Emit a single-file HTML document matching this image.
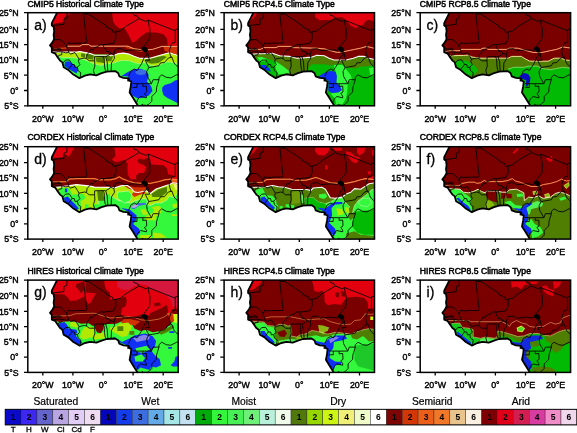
<!DOCTYPE html>
<html><head><meta charset="utf-8"><title>Climate Type</title>
<style>html,body{margin:0;padding:0;background:#fff;overflow:hidden}svg{display:block}</style></head>
<body>
<svg width="577" height="433" viewBox="0 0 577 433" font-family="'Liberation Sans', Arial, sans-serif" fill="#000">
<rect x="0" y="0" width="577" height="433" fill="#fff"/>
<defs>
<clipPath id="land0"><polygon points="57.4,12.0 54.2,18.4 51.8,23.2 51.8,25.6 53.6,26.8 54.2,31.0 53.6,35.2 54.2,38.8 52.4,42.4 50.0,45.4 51.8,47.4 51.8,52.2 55.2,53.6 57.6,57.2 60.0,60.6 62.4,62.4 63.7,67.3 67.9,69.7 73.4,74.6 79.4,78.2 84.9,75.6 90.2,74.4 96.4,75.3 101.6,73.2 106.8,71.6 115.2,71.1 118.3,73.2 119.3,76.3 123.5,77.9 128.7,78.4 129.7,81.0 131.3,81.5 130.8,86.2 129.6,92.4 132.5,97.0 137.5,105.0 138.5,107.5 181.0,107.5 181.0,10.0 58.2,10.0"/></clipPath>
<clipPath id="fr0"><rect x="27.8" y="12.7" width="150.4" height="93.1"/></clipPath>
<clipPath id="land1"><polygon points="253.7,12.0 250.5,18.4 248.1,23.2 248.1,25.6 249.9,26.8 250.5,31.0 249.9,35.2 250.5,38.8 248.7,42.4 246.3,45.4 248.1,47.4 248.1,52.2 251.5,53.6 253.9,57.2 256.3,60.6 258.7,62.4 260.0,67.3 264.2,69.7 269.7,74.6 275.7,78.2 281.2,75.6 286.5,74.4 292.7,75.3 297.9,73.2 303.1,71.6 311.5,71.1 314.6,73.2 315.6,76.3 319.8,77.9 325.0,78.4 326.0,81.0 327.6,81.5 327.1,86.2 325.9,92.4 328.8,97.0 333.8,105.0 334.8,107.5 377.3,107.5 377.3,10.0 254.5,10.0"/></clipPath>
<clipPath id="fr1"><rect x="224.1" y="12.7" width="150.4" height="93.1"/></clipPath>
<clipPath id="land2"><polygon points="449.8,12.0 446.6,18.4 444.2,23.2 444.2,25.6 446.0,26.8 446.6,31.0 446.0,35.2 446.6,38.8 444.8,42.4 442.4,45.4 444.2,47.4 444.2,52.2 447.6,53.6 450.0,57.2 452.4,60.6 454.8,62.4 456.1,67.3 460.3,69.7 465.8,74.6 471.8,78.2 477.3,75.6 482.6,74.4 488.8,75.3 494.0,73.2 499.2,71.6 507.6,71.1 510.7,73.2 511.7,76.3 515.9,77.9 521.1,78.4 522.1,81.0 523.7,81.5 523.2,86.2 522.0,92.4 524.9,97.0 529.9,105.0 530.9,107.5 573.4,107.5 573.4,10.0 450.6,10.0"/></clipPath>
<clipPath id="fr2"><rect x="420.2" y="12.7" width="150.4" height="93.1"/></clipPath>
<clipPath id="land3"><polygon points="57.4,146.0 54.2,152.4 51.8,157.2 51.8,159.6 53.6,160.8 54.2,165.0 53.6,169.2 54.2,172.8 52.4,176.4 50.0,179.4 51.8,181.4 51.8,186.2 55.2,187.6 57.6,191.2 60.0,194.6 62.4,196.4 63.7,201.3 67.9,203.7 73.4,208.6 79.4,212.2 84.9,209.6 90.2,208.4 96.4,209.3 101.6,207.2 106.8,205.6 115.2,205.1 118.3,207.2 119.3,210.3 123.5,211.9 128.7,212.4 129.7,215.0 131.3,215.5 130.8,220.2 129.6,226.4 132.5,231.0 137.5,239.0 138.5,241.5 181.0,241.5 181.0,144.0 58.2,144.0"/></clipPath>
<clipPath id="fr3"><rect x="27.8" y="146.7" width="150.4" height="92.4"/></clipPath>
<clipPath id="land4"><polygon points="253.7,146.0 250.5,152.4 248.1,157.2 248.1,159.6 249.9,160.8 250.5,165.0 249.9,169.2 250.5,172.8 248.7,176.4 246.3,179.4 248.1,181.4 248.1,186.2 251.5,187.6 253.9,191.2 256.3,194.6 258.7,196.4 260.0,201.3 264.2,203.7 269.7,208.6 275.7,212.2 281.2,209.6 286.5,208.4 292.7,209.3 297.9,207.2 303.1,205.6 311.5,205.1 314.6,207.2 315.6,210.3 319.8,211.9 325.0,212.4 326.0,215.0 327.6,215.5 327.1,220.2 325.9,226.4 328.8,231.0 333.8,239.0 334.8,241.5 377.3,241.5 377.3,144.0 254.5,144.0"/></clipPath>
<clipPath id="fr4"><rect x="224.1" y="146.7" width="150.4" height="92.4"/></clipPath>
<clipPath id="land5"><polygon points="449.8,146.0 446.6,152.4 444.2,157.2 444.2,159.6 446.0,160.8 446.6,165.0 446.0,169.2 446.6,172.8 444.8,176.4 442.4,179.4 444.2,181.4 444.2,186.2 447.6,187.6 450.0,191.2 452.4,194.6 454.8,196.4 456.1,201.3 460.3,203.7 465.8,208.6 471.8,212.2 477.3,209.6 482.6,208.4 488.8,209.3 494.0,207.2 499.2,205.6 507.6,205.1 510.7,207.2 511.7,210.3 515.9,211.9 521.1,212.4 522.1,215.0 523.7,215.5 523.2,220.2 522.0,226.4 524.9,231.0 529.9,239.0 530.9,241.5 573.4,241.5 573.4,144.0 450.6,144.0"/></clipPath>
<clipPath id="fr5"><rect x="420.2" y="146.7" width="150.4" height="92.4"/></clipPath>
<clipPath id="land6"><polygon points="57.4,279.4 54.2,285.8 51.8,290.6 51.8,293.0 53.6,294.2 54.2,298.4 53.6,302.6 54.2,306.2 52.4,309.8 50.0,312.8 51.8,314.8 51.8,319.6 55.2,321.0 57.6,324.6 60.0,328.0 62.4,329.8 63.7,334.7 67.9,337.1 73.4,342.0 79.4,345.6 84.9,343.0 90.2,341.8 96.4,342.7 101.6,340.6 106.8,339.0 115.2,338.5 118.3,340.6 119.3,343.7 123.5,345.3 128.7,345.8 129.7,348.4 131.3,348.9 130.8,353.6 129.6,359.8 132.5,364.4 137.5,372.4 138.5,374.9 181.0,374.9 181.0,277.4 58.2,277.4"/></clipPath>
<clipPath id="fr6"><rect x="27.8" y="280.1" width="150.4" height="92.3"/></clipPath>
<clipPath id="land7"><polygon points="253.7,279.4 250.5,285.8 248.1,290.6 248.1,293.0 249.9,294.2 250.5,298.4 249.9,302.6 250.5,306.2 248.7,309.8 246.3,312.8 248.1,314.8 248.1,319.6 251.5,321.0 253.9,324.6 256.3,328.0 258.7,329.8 260.0,334.7 264.2,337.1 269.7,342.0 275.7,345.6 281.2,343.0 286.5,341.8 292.7,342.7 297.9,340.6 303.1,339.0 311.5,338.5 314.6,340.6 315.6,343.7 319.8,345.3 325.0,345.8 326.0,348.4 327.6,348.9 327.1,353.6 325.9,359.8 328.8,364.4 333.8,372.4 334.8,374.9 377.3,374.9 377.3,277.4 254.5,277.4"/></clipPath>
<clipPath id="fr7"><rect x="224.1" y="280.1" width="150.4" height="92.3"/></clipPath>
<clipPath id="land8"><polygon points="449.8,279.4 446.6,285.8 444.2,290.6 444.2,293.0 446.0,294.2 446.6,298.4 446.0,302.6 446.6,306.2 444.8,309.8 442.4,312.8 444.2,314.8 444.2,319.6 447.6,321.0 450.0,324.6 452.4,328.0 454.8,329.8 456.1,334.7 460.3,337.1 465.8,342.0 471.8,345.6 477.3,343.0 482.6,341.8 488.8,342.7 494.0,340.6 499.2,339.0 507.6,338.5 510.7,340.6 511.7,343.7 515.9,345.3 521.1,345.8 522.1,348.4 523.7,348.9 523.2,353.6 522.0,359.8 524.9,364.4 529.9,372.4 530.9,374.9 573.4,374.9 573.4,277.4 450.6,277.4"/></clipPath>
<clipPath id="fr8"><rect x="420.2" y="280.1" width="150.4" height="92.3"/></clipPath>
</defs>
<g clip-path="url(#fr0)">
<g clip-path="url(#land0)">
<rect x="26.8" y="11.7" width="152.4" height="95.1" fill="#7a0000"/>
<polygon points="57.0,11.8 70.3,11.8 70.3,13.6 64.3,17.3 63.1,22.1 52.7,24.0 51.5,20.9 54.0,17.3" fill="#e2000e"/>
<polygon points="111.8,11.2 180.4,11.2 180.4,46.4 167.6,45.2 167.0,38.5 163.4,34.3 156.1,32.4 146.4,32.4 140.3,36.7 136.1,40.9 132.4,42.8 128.2,34.3 124.6,28.2 119.1,28.2 114.9,24.6 113.0,20.9" fill="#e2000e"/>
<polygon points="163.4,46.9 180.4,46.9 180.4,55.5 173.1,53.7 168.2,52.1 164.6,50.7" fill="#d03200"/>
<polygon points="125.8,47.0 131.8,47.5 140.3,50.3 144.0,51.2 140.3,51.9 131.8,49.5 125.8,48.0" fill="#d03200"/>
<polygon points="50.0,52.1 57.0,52.1 76.4,52.1 80.0,51.5 85.2,52.6 90.4,53.6 94.6,55.2 114.3,55.2 118.5,53.6 123.7,53.1 128.9,54.1 134.0,56.2 140.3,58.4 150.0,58.2 158.5,55.8 164.6,54.0 169.4,52.7 173.1,54.0 180.0,56.0 180.0,110.0 50.0,110.0" fill="#b2e802"/>
<polygon points="81.0,53.6 85.2,53.6 85.2,57.8 81.0,56.7" fill="#507e02"/>
<polygon points="87.3,54.6 93.5,55.2 93.5,59.8 87.3,58.8" fill="#507e02"/>
<polygon points="95.6,57.8 105.0,56.7 103.9,63.0 96.6,61.9" fill="#507e02"/>
<polygon points="106.0,56.7 113.3,56.2 111.2,61.4 107.0,60.9" fill="#507e02"/>
<polygon points="145.2,59.4 163.4,55.8 167.0,57.0 158.5,63.1 151.2,63.7 146.4,61.8" fill="#507e02"/>
<polygon points="86.1,53.7 110.0,54.3 110.0,57.0 86.1,56.4" fill="#507e02"/>
<polygon points="50.0,55.0 57.0,55.0 62.0,57.5 70.0,57.5 76.0,58.0 80.0,58.8 85.2,59.8 90.4,62.4 94.6,64.0 100.8,65.6 105.0,64.0 111.2,63.5 115.4,62.4 119.5,60.9 124.7,60.4 130.0,60.9 134.0,62.4 140.0,64.0 142.8,62.6 146.4,63.0 151.2,65.5 156.1,66.1 161.0,64.3 167.0,61.8 173.1,62.4 180.0,64.5 180.0,110.0 50.0,110.0" fill="#34f83c"/>
<polygon points="64.9,61.8 69.1,61.2 75.2,65.5 78.2,70.3 76.4,73.4 70.9,70.3 64.3,66.1" fill="#1030f5"/>
<polygon points="121.5,76.0 128.2,71.7 134.3,69.3 140.3,68.7 146.4,71.1 148.8,75.3 147.0,81.4 151.2,86.3 152.5,91.1 148.8,95.4 142.8,97.8 137.9,98.4 133.1,96.0 128.2,92.3 128.2,76.6" fill="#1030f5"/>
<ellipse cx="140.9" cy="72.3" rx="5.5" ry="2.7" fill="#3c6ee1"/>
<polygon points="162.2,87.5 164.6,85.1 170.7,83.2 175.5,80.2 180.4,79.6 180.4,104.7 173.1,100.8 167.0,97.8 163.4,95.0 162.2,91.1" fill="#1030f5"/>
<polyline points="67.4,46.2 80.0,46.2 82.5,44.6 88.5,44.6 91.0,46.2 128.0,46.2 134.0,48.8 144.0,50.0 152.5,49.4 162.0,46.4 180.0,46.4" fill="none" stroke="#eb5f19" stroke-width="1.0" stroke-linejoin="round"/>
<polyline points="67.4,46.2 80.0,46.2 82.5,44.6 88.5,44.6 91.0,46.2 128.0,46.2 134.0,48.8 144.0,50.0 152.5,49.4 162.0,46.4 180.0,46.4" fill="none" stroke="#fff8ec" stroke-width="0.42" stroke-linejoin="round"/>
<polyline points="53.6,48.6 66.8,48.0" fill="none" stroke="#eb5f19" stroke-width="1.0" stroke-linejoin="round"/>
<polyline points="50.0,52.1 57.0,52.1 76.4,52.1 80.0,51.5 85.2,52.6 90.4,53.6 94.6,55.2 114.3,55.2 118.5,53.6 123.7,53.1 128.9,54.1 134.0,56.2 140.3,58.4 150.0,58.2 158.5,55.8 164.6,54.0 169.4,52.7 173.1,54.0 180.0,56.0" fill="none" stroke="#ffffff" stroke-width="1.1" stroke-linejoin="round"/>
<polyline points="50.0,55.0 57.0,55.0 62.0,57.5 70.0,57.5 76.0,58.0 80.0,58.8 85.2,59.8 90.4,62.4 94.6,64.0 100.8,65.6 105.0,64.0 111.2,63.5 115.4,62.4 119.5,60.9 124.7,60.4 130.0,60.9 134.0,62.4 140.0,64.0 142.8,62.6 146.4,63.0 151.2,65.5 156.1,66.1 161.0,64.3 167.0,61.8 173.1,62.4 180.0,64.5" fill="none" stroke="#c8f5a0" stroke-width="0.6" stroke-linejoin="round"/>
<g fill="none" stroke="#000" stroke-width="0.85" stroke-linejoin="round" transform="translate(0.0,0.0)">
<polyline points="51.7,25.6 63.9,24.3 63.9,19.2 66.9,18.0 66.9,11.0"/>
<polyline points="76.9,7.0 88.5,14.0 83.5,14.0 86.5,40.0 87.1,40.6 86.2,43.1 75.0,43.1 74.7,43.4 70.8,43.4 68.4,42.7 67.5,44.9 66.3,45.3"/>
<polyline points="88.5,14.0 106.5,25.9 106.6,27.2 112.7,29.9 113.0,32.4 115.8,31.9"/>
<polyline points="53.4,41.5 54.0,40.0 57.9,39.5 60.0,39.7 62.7,41.2 64.2,43.1 66.3,45.3"/>
<polyline points="66.3,45.3 66.9,47.9 68.7,50.8 68.7,52.5"/>
<polyline points="68.7,52.5 65.7,52.8 61.8,51.8 57.9,51.8 52.8,52.7"/>
<polyline points="52.5,48.9 56.4,48.9 57.9,48.2 60.9,49.0 61.5,49.5 60.0,50.1 57.6,49.2 56.4,49.8 52.5,50.4"/>
<polyline points="61.8,51.8 61.8,54.7 58.8,55.3 57.9,57.0"/>
<polyline points="68.7,52.5 70.8,54.1 75.0,52.5 76.5,55.0 77.7,56.8 79.0,59.2"/>
<polyline points="63.0,62.9 65.4,60.2 69.3,59.9 71.1,62.6 72.0,64.4"/>
<polyline points="72.0,64.4 74.4,64.7 75.0,67.5 77.4,67.2"/>
<polyline points="72.0,64.4 71.1,66.0 68.4,69.3"/>
<polyline points="79.0,59.2 78.4,61.4 79.9,64.7 77.4,67.2"/>
<polyline points="77.4,67.2 78.1,70.6 80.8,72.7 80.3,77.0"/>
<polyline points="79.0,59.2 84.4,58.0 86.5,58.6"/>
<polyline points="86.5,58.6 87.1,54.4 89.8,51.6 90.7,49.5 93.1,49.8 94.3,47.6 97.0,47.0 100.9,44.4 103.6,44.7"/>
<polyline points="86.5,58.6 89.2,60.8 94.6,60.8"/>
<polyline points="94.6,60.8 94.9,66.0 93.4,70.6 94.6,74.8"/>
<polyline points="94.6,60.8 94.6,56.8 102.6,56.5"/>
<polyline points="102.6,56.5 104.2,58.9 104.5,65.1 105.1,69.6 106.6,71.8"/>
<polyline points="102.6,56.5 105.7,56.8 107.2,62.0 107.8,71.3"/>
<polyline points="105.7,56.8 110.2,54.1 110.2,52.8"/>
<polyline points="103.6,44.7 103.6,47.6 106.0,49.5 106.0,51.3 109.3,51.6 110.2,52.8 113.9,54.7"/>
<polyline points="113.9,54.7 114.5,58.3 111.5,62.9 111.1,70.9"/>
<polyline points="113.9,54.7 115.4,49.2 121.1,48.6 124.1,50.7 128.6,50.4 133.1,49.8 140.6,50.4 143.9,48.6"/>
<polyline points="103.6,44.7 113.6,43.4 115.8,38.8 115.8,31.9"/>
<polyline points="115.8,31.9 120.5,30.8 125.6,26.5 139.1,18.6"/>
<polyline points="139.1,18.6 137.6,16.2 134.0,15.2 132.5,11.0"/>
<polyline points="139.1,18.6 145.8,21.4 148.2,20.1"/>
<polyline points="148.2,20.1 148.8,24.7 150.0,29.3 149.7,38.8 145.2,44.6 143.6,46.4 143.9,48.6"/>
<polyline points="148.2,20.1 175.2,30.8 175.2,42.4 171.9,43.1 169.2,50.7 170.7,56.8 171.9,57.1"/>
<polyline points="175.2,30.8 175.2,29.3 178.2,29.3 178.2,23.2 178.2,11.0"/>
<polyline points="128.6,76.1 131.0,70.9 134.6,69.0 137.0,70.6 138.8,67.8 141.5,63.8 144.5,56.8 147.0,55.3 145.8,52.5 145.5,50.4"/>
<polyline points="145.5,50.4 147.9,53.1 148.5,57.4 149.7,60.2 145.2,60.2 148.8,67.5"/>
<polyline points="148.8,67.5 152.7,66.9 159.0,65.7 160.5,62.9 164.4,62.6 168.3,58.0 171.9,57.1"/>
<polyline points="148.8,67.5 146.7,71.5 147.3,76.4 148.5,78.5 151.5,83.7"/>
<polyline points="171.9,57.1 174.0,62.9 175.8,65.1 179.2,68.1 182.8,72.1"/>
<polyline points="151.5,83.7 153.0,79.7 159.0,79.7 159.0,77.3 161.7,74.8 166.2,77.3 170.7,77.9 176.7,74.8 182.8,74.5"/>
<polyline points="159.0,79.7 156.6,87.4 156.3,91.9 151.8,96.5 151.8,101.1 148.8,104.2 146.7,105.4 143.6,105.1 142.1,104.2 139.7,107.2"/>
<polyline points="151.5,83.7 143.0,83.7 137.0,83.7 132.5,83.4"/>
<polyline points="137.0,83.7 137.0,87.4 132.5,87.4"/>
<polyline points="143.0,83.7 142.7,86.4 146.4,86.1 146.7,91.9 144.5,93.5 146.4,96.2 146.4,97.8 140.6,96.5 137.9,99.0 136.7,102.3"/>
<polygon points="141.8,47.6 143.9,46.4 146.7,47.6 148.2,50.1 147.0,51.9 144.5,52.2 143.0,50.7 141.5,49.5" fill="#000" stroke="none"/>
</g>
</g>
<polyline points="57.4,12.0 54.2,18.4 51.8,23.2 51.8,25.6 53.6,26.8 54.2,31.0 53.6,35.2 54.2,38.8 52.4,42.4 50.0,45.4 51.8,47.4 51.8,52.2 55.2,53.6 57.6,57.2 60.0,60.6 62.4,62.4 63.7,67.3 67.9,69.7 73.4,74.6 79.4,78.2 84.9,75.6 90.2,74.4 96.4,75.3 101.6,73.2 106.8,71.6 115.2,71.1 118.3,73.2 119.3,76.3 123.5,77.9 128.7,78.4 129.7,81.0 131.3,81.5 130.8,86.2 129.6,92.4 132.5,97.0 137.5,105.0 138.5,107.5" fill="none" stroke="#000" stroke-width="1.8" stroke-linejoin="round"/>
<rect x="127.3" y="79.0" width="1.9" height="2.4" fill="#000"/>
</g>
<rect x="27.8" y="12.7" width="150.4" height="93.1" fill="none" stroke="#000" stroke-width="1.5"/>
<text x="18.6" y="16.0" font-size="8.8" text-anchor="end" stroke="#000" stroke-width="0.42">25°N</text>
<text x="18.6" y="32.7" font-size="8.8" text-anchor="end" stroke="#000" stroke-width="0.42">20°N</text>
<text x="18.6" y="48.0" font-size="8.8" text-anchor="end" stroke="#000" stroke-width="0.42">15°N</text>
<text x="18.6" y="63.3" font-size="8.8" text-anchor="end" stroke="#000" stroke-width="0.42">10°N</text>
<text x="18.6" y="78.5" font-size="8.8" text-anchor="end" stroke="#000" stroke-width="0.42">5°N</text>
<text x="18.6" y="93.8" font-size="8.8" text-anchor="end" stroke="#000" stroke-width="0.42">0°</text>
<text x="18.6" y="109.1" font-size="8.8" text-anchor="end" stroke="#000" stroke-width="0.42">5°S</text>
<text x="42.8" y="121.7" font-size="8.8" text-anchor="middle" stroke="#000" stroke-width="0.42">20°W</text>
<text x="72.9" y="121.7" font-size="8.8" text-anchor="middle" stroke="#000" stroke-width="0.42">10°W</text>
<text x="103.0" y="121.7" font-size="8.8" text-anchor="middle" stroke="#000" stroke-width="0.42">0°</text>
<text x="133.1" y="121.7" font-size="8.8" text-anchor="middle" stroke="#000" stroke-width="0.42">10°E</text>
<text x="163.2" y="121.7" font-size="8.8" text-anchor="middle" stroke="#000" stroke-width="0.42">20°E</text>
<path d="M24.0 12.7H27.8M24.0 29.4H27.8M24.0 44.7H27.8M24.0 60.0H27.8M24.0 75.2H27.8M24.0 90.5H27.8M24.0 105.8H27.8M42.8 105.8V108.8M72.9 105.8V108.8M103.0 105.8V108.8M133.1 105.8V108.8M163.2 105.8V108.8" stroke="#000" stroke-width="1.3" fill="none"/>
<text x="27.4" y="6.5" font-size="8.6" stroke="#000" stroke-width="0.5">CMIP5 Historical Climate Type</text>
<text x="34.2" y="29.5" font-size="14" stroke="#000" stroke-width="0.3">a)</text>
<g clip-path="url(#fr1)">
<g clip-path="url(#land1)">
<rect x="223.1" y="11.7" width="152.4" height="95.1" fill="#7a0000"/>
<polygon points="252.4,11.8 258.4,11.8 254.2,17.3 249.3,22.1" fill="#e2000e"/>
<polygon points="315.1,11.2 376.4,11.2 376.4,22.1 369.1,19.7 365.4,20.9 363.0,25.2 359.4,25.8 355.7,28.2 350.9,25.8 346.0,20.3 342.4,17.3 335.1,17.5 331.5,19.7 319.3,20.3 315.1,17.3" fill="#e2000e"/>
<polygon points="248.1,54.0 254.2,54.0 272.4,53.3 279.7,55.8 289.4,56.4 296.7,58.2 306.0,57.6 312.1,57.0 316.9,55.2 324.2,55.8 329.1,58.2 333.9,60.0 346.0,60.0 353.3,58.2 358.2,56.4 364.2,56.4 369.1,58.2 376.4,60.0 376.4,110.0 248.1,110.0" fill="#507e02"/>
<polygon points="307.8,76.4 307.8,71.5 308.4,67.3 312.1,64.3 324.2,64.3 330.3,65.5 336.3,64.3 342.4,64.3 347.2,67.3 354.5,68.5 360.6,66.7 369.1,66.1 376.4,64.9 376.4,110.0 307.8,110.0" fill="#02b904"/>
<polygon points="256.6,57.6 261.5,57.0 267.5,58.8 276.0,61.2 282.1,65.5 288.2,70.3 289.4,72.8 284.5,74.0 277.2,75.8 272.4,76.4 256.6,76.4" fill="#02b904"/>
<polygon points="257.2,57.6 261.5,57.0 266.3,58.8 265.1,61.2 260.3,61.2" fill="#34f83c"/>
<polygon points="276.0,61.8 282.1,65.5 288.2,70.3 289.4,72.8 284.5,73.7 278.5,74.6 276.0,69.1 274.8,64.3" fill="#34f83c"/>
<polygon points="260.3,64.9 265.7,64.9 270.0,69.1 270.6,71.8 266.3,70.3 261.5,67.3" fill="#1030f5"/>
<polygon points="333.9,65.0 342.4,65.0 347.2,70.5 350.9,75.3 352.1,80.2 347.9,82.0 347.2,92.3 346.0,98.4 342.4,104.5 336.3,104.5 335.1,98.4 330.3,93.5 338.8,92.3 341.8,89.9 340.0,86.3 336.3,82.6 336.9,76.6 335.7,71.7 333.9,66.9" fill="#34f83c"/>
<polygon points="369.1,68.1 376.4,66.9 376.4,76.6 370.3,75.3" fill="#34f83c"/>
<polygon points="318.1,76.6 325.4,72.3 330.3,71.1 335.7,71.7 336.9,76.6 336.3,82.6 340.0,86.3 341.8,89.9 338.8,92.3 332.1,92.9 328.4,91.1 328.4,80.2 324.2,79.0" fill="#1030f5"/>
<polyline points="248.1,49.4 260.3,49.4 263.9,47.6 276.0,47.6 278.5,46.4 290.6,46.4 293.0,47.6 306.0,47.9 315.7,48.2 324.2,48.8 330.3,50.6 337.5,52.5 346.0,51.2 354.5,49.4 360.6,48.2 366.7,46.4 373.9,48.2 376.4,48.2" fill="none" stroke="#eb5f19" stroke-width="1.0" stroke-linejoin="round"/>
<polyline points="248.1,49.4 260.3,49.4 263.9,47.6 276.0,47.6 278.5,46.4 290.6,46.4 293.0,47.6 306.0,47.9 315.7,48.2 324.2,48.8 330.3,50.6 337.5,52.5 346.0,51.2 354.5,49.4 360.6,48.2 366.7,46.4 373.9,48.2 376.4,48.2" fill="none" stroke="#fff8ec" stroke-width="0.42" stroke-linejoin="round"/>
<polyline points="248.1,54.0 254.2,54.0 272.4,53.3 279.7,55.8 289.4,56.4 296.7,58.2 306.0,57.6 312.1,57.0 316.9,55.2 324.2,55.8 329.1,58.2 333.9,60.0 346.0,60.0 353.3,58.2 358.2,56.4 364.2,56.4 369.1,58.2 376.4,60.0" fill="none" stroke="#ffffff" stroke-width="1.1" stroke-linejoin="round"/>
<g fill="none" stroke="#000" stroke-width="0.85" stroke-linejoin="round" transform="translate(196.3,0.0)">
<polyline points="51.7,25.6 63.9,24.3 63.9,19.2 66.9,18.0 66.9,11.0"/>
<polyline points="76.9,7.0 88.5,14.0 83.5,14.0 86.5,40.0 87.1,40.6 86.2,43.1 75.0,43.1 74.7,43.4 70.8,43.4 68.4,42.7 67.5,44.9 66.3,45.3"/>
<polyline points="88.5,14.0 106.5,25.9 106.6,27.2 112.7,29.9 113.0,32.4 115.8,31.9"/>
<polyline points="53.4,41.5 54.0,40.0 57.9,39.5 60.0,39.7 62.7,41.2 64.2,43.1 66.3,45.3"/>
<polyline points="66.3,45.3 66.9,47.9 68.7,50.8 68.7,52.5"/>
<polyline points="68.7,52.5 65.7,52.8 61.8,51.8 57.9,51.8 52.8,52.7"/>
<polyline points="52.5,48.9 56.4,48.9 57.9,48.2 60.9,49.0 61.5,49.5 60.0,50.1 57.6,49.2 56.4,49.8 52.5,50.4"/>
<polyline points="61.8,51.8 61.8,54.7 58.8,55.3 57.9,57.0"/>
<polyline points="68.7,52.5 70.8,54.1 75.0,52.5 76.5,55.0 77.7,56.8 79.0,59.2"/>
<polyline points="63.0,62.9 65.4,60.2 69.3,59.9 71.1,62.6 72.0,64.4"/>
<polyline points="72.0,64.4 74.4,64.7 75.0,67.5 77.4,67.2"/>
<polyline points="72.0,64.4 71.1,66.0 68.4,69.3"/>
<polyline points="79.0,59.2 78.4,61.4 79.9,64.7 77.4,67.2"/>
<polyline points="77.4,67.2 78.1,70.6 80.8,72.7 80.3,77.0"/>
<polyline points="79.0,59.2 84.4,58.0 86.5,58.6"/>
<polyline points="86.5,58.6 87.1,54.4 89.8,51.6 90.7,49.5 93.1,49.8 94.3,47.6 97.0,47.0 100.9,44.4 103.6,44.7"/>
<polyline points="86.5,58.6 89.2,60.8 94.6,60.8"/>
<polyline points="94.6,60.8 94.9,66.0 93.4,70.6 94.6,74.8"/>
<polyline points="94.6,60.8 94.6,56.8 102.6,56.5"/>
<polyline points="102.6,56.5 104.2,58.9 104.5,65.1 105.1,69.6 106.6,71.8"/>
<polyline points="102.6,56.5 105.7,56.8 107.2,62.0 107.8,71.3"/>
<polyline points="105.7,56.8 110.2,54.1 110.2,52.8"/>
<polyline points="103.6,44.7 103.6,47.6 106.0,49.5 106.0,51.3 109.3,51.6 110.2,52.8 113.9,54.7"/>
<polyline points="113.9,54.7 114.5,58.3 111.5,62.9 111.1,70.9"/>
<polyline points="113.9,54.7 115.4,49.2 121.1,48.6 124.1,50.7 128.6,50.4 133.1,49.8 140.6,50.4 143.9,48.6"/>
<polyline points="103.6,44.7 113.6,43.4 115.8,38.8 115.8,31.9"/>
<polyline points="115.8,31.9 120.5,30.8 125.6,26.5 139.1,18.6"/>
<polyline points="139.1,18.6 137.6,16.2 134.0,15.2 132.5,11.0"/>
<polyline points="139.1,18.6 145.8,21.4 148.2,20.1"/>
<polyline points="148.2,20.1 148.8,24.7 150.0,29.3 149.7,38.8 145.2,44.6 143.6,46.4 143.9,48.6"/>
<polyline points="148.2,20.1 175.2,30.8 175.2,42.4 171.9,43.1 169.2,50.7 170.7,56.8 171.9,57.1"/>
<polyline points="175.2,30.8 175.2,29.3 178.2,29.3 178.2,23.2 178.2,11.0"/>
<polyline points="128.6,76.1 131.0,70.9 134.6,69.0 137.0,70.6 138.8,67.8 141.5,63.8 144.5,56.8 147.0,55.3 145.8,52.5 145.5,50.4"/>
<polyline points="145.5,50.4 147.9,53.1 148.5,57.4 149.7,60.2 145.2,60.2 148.8,67.5"/>
<polyline points="148.8,67.5 152.7,66.9 159.0,65.7 160.5,62.9 164.4,62.6 168.3,58.0 171.9,57.1"/>
<polyline points="148.8,67.5 146.7,71.5 147.3,76.4 148.5,78.5 151.5,83.7"/>
<polyline points="171.9,57.1 174.0,62.9 175.8,65.1 179.2,68.1 182.8,72.1"/>
<polyline points="151.5,83.7 153.0,79.7 159.0,79.7 159.0,77.3 161.7,74.8 166.2,77.3 170.7,77.9 176.7,74.8 182.8,74.5"/>
<polyline points="159.0,79.7 156.6,87.4 156.3,91.9 151.8,96.5 151.8,101.1 148.8,104.2 146.7,105.4 143.6,105.1 142.1,104.2 139.7,107.2"/>
<polyline points="151.5,83.7 143.0,83.7 137.0,83.7 132.5,83.4"/>
<polyline points="137.0,83.7 137.0,87.4 132.5,87.4"/>
<polyline points="143.0,83.7 142.7,86.4 146.4,86.1 146.7,91.9 144.5,93.5 146.4,96.2 146.4,97.8 140.6,96.5 137.9,99.0 136.7,102.3"/>
<polygon points="141.8,47.6 143.9,46.4 146.7,47.6 148.2,50.1 147.0,51.9 144.5,52.2 143.0,50.7 141.5,49.5" fill="#000" stroke="none"/>
</g>
</g>
<polyline points="253.7,12.0 250.5,18.4 248.1,23.2 248.1,25.6 249.9,26.8 250.5,31.0 249.9,35.2 250.5,38.8 248.7,42.4 246.3,45.4 248.1,47.4 248.1,52.2 251.5,53.6 253.9,57.2 256.3,60.6 258.7,62.4 260.0,67.3 264.2,69.7 269.7,74.6 275.7,78.2 281.2,75.6 286.5,74.4 292.7,75.3 297.9,73.2 303.1,71.6 311.5,71.1 314.6,73.2 315.6,76.3 319.8,77.9 325.0,78.4 326.0,81.0 327.6,81.5 327.1,86.2 325.9,92.4 328.8,97.0 333.8,105.0 334.8,107.5" fill="none" stroke="#000" stroke-width="1.8" stroke-linejoin="round"/>
<rect x="323.6" y="79.0" width="1.9" height="2.4" fill="#000"/>
</g>
<rect x="224.1" y="12.7" width="150.4" height="93.1" fill="none" stroke="#000" stroke-width="1.5"/>
<text x="214.9" y="16.0" font-size="8.8" text-anchor="end" stroke="#000" stroke-width="0.42">25°N</text>
<text x="214.9" y="32.7" font-size="8.8" text-anchor="end" stroke="#000" stroke-width="0.42">20°N</text>
<text x="214.9" y="48.0" font-size="8.8" text-anchor="end" stroke="#000" stroke-width="0.42">15°N</text>
<text x="214.9" y="63.3" font-size="8.8" text-anchor="end" stroke="#000" stroke-width="0.42">10°N</text>
<text x="214.9" y="78.5" font-size="8.8" text-anchor="end" stroke="#000" stroke-width="0.42">5°N</text>
<text x="214.9" y="93.8" font-size="8.8" text-anchor="end" stroke="#000" stroke-width="0.42">0°</text>
<text x="214.9" y="109.1" font-size="8.8" text-anchor="end" stroke="#000" stroke-width="0.42">5°S</text>
<text x="239.1" y="121.7" font-size="8.8" text-anchor="middle" stroke="#000" stroke-width="0.42">20°W</text>
<text x="269.2" y="121.7" font-size="8.8" text-anchor="middle" stroke="#000" stroke-width="0.42">10°W</text>
<text x="299.3" y="121.7" font-size="8.8" text-anchor="middle" stroke="#000" stroke-width="0.42">0°</text>
<text x="329.4" y="121.7" font-size="8.8" text-anchor="middle" stroke="#000" stroke-width="0.42">10°E</text>
<text x="359.5" y="121.7" font-size="8.8" text-anchor="middle" stroke="#000" stroke-width="0.42">20°E</text>
<path d="M220.3 12.7H224.1M220.3 29.4H224.1M220.3 44.7H224.1M220.3 60.0H224.1M220.3 75.2H224.1M220.3 90.5H224.1M220.3 105.8H224.1M239.1 105.8V108.8M269.2 105.8V108.8M299.3 105.8V108.8M329.4 105.8V108.8M359.5 105.8V108.8" stroke="#000" stroke-width="1.3" fill="none"/>
<text x="223.7" y="6.5" font-size="8.6" stroke="#000" stroke-width="0.5">CMIP5 RCP4.5 Climate Type</text>
<text x="230.5" y="29.5" font-size="14" stroke="#000" stroke-width="0.3">b)</text>
<g clip-path="url(#fr2)">
<g clip-path="url(#land2)">
<rect x="419.2" y="11.7" width="152.4" height="95.1" fill="#7a0000"/>
<polygon points="444.1,55.8 450.2,55.8 468.4,55.2 472.0,57.0 480.5,58.2 502.0,58.2 508.1,58.2 511.7,56.4 521.4,56.4 525.1,58.8 529.9,61.2 548.1,61.2 554.2,58.2 561.4,58.2 565.1,60.0 572.4,60.6 572.4,110.0 444.1,110.0" fill="#507e02"/>
<polygon points="506.9,76.4 506.9,74.0 508.1,69.1 514.1,67.3 523.8,67.3 528.7,66.1 537.2,66.1 542.0,68.5 550.5,69.7 556.6,68.5 562.7,67.3 572.4,68.5 572.4,110.0 506.9,110.0" fill="#02b904"/>
<polygon points="456.3,61.2 459.9,60.0 466.0,60.6 470.8,63.1 475.7,66.7 478.1,70.3 475.7,73.4 472.0,75.2 467.2,76.4 456.3,76.4 455.1,66.7" fill="#02b904"/>
<polygon points="519.0,76.6 523.8,72.9 528.1,74.1 530.5,77.8 529.9,82.0 527.5,86.3 525.7,86.3 526.3,80.2 522.6,79.0" fill="#0a0ac3"/>
<polyline points="444.1,51.2 459.9,50.6 461.1,49.4 480.5,49.4 483.0,48.2 486.6,48.2 487.8,49.4 502.0,49.4 506.9,49.4 509.3,48.2 517.8,48.2 526.3,50.6 533.5,52.5 542.0,52.5 550.5,50.6 556.6,49.4 562.7,47.0 572.4,48.2" fill="none" stroke="#eb5f19" stroke-width="1.0" stroke-linejoin="round"/>
<polyline points="444.1,51.2 459.9,50.6 461.1,49.4 480.5,49.4 483.0,48.2 486.6,48.2 487.8,49.4 502.0,49.4 506.9,49.4 509.3,48.2 517.8,48.2 526.3,50.6 533.5,52.5 542.0,52.5 550.5,50.6 556.6,49.4 562.7,47.0 572.4,48.2" fill="none" stroke="#fff8ec" stroke-width="0.42" stroke-linejoin="round"/>
<polyline points="444.1,55.8 450.2,55.8 468.4,55.2 472.0,57.0 480.5,58.2 502.0,58.2 508.1,58.2 511.7,56.4 521.4,56.4 525.1,58.8 529.9,61.2 548.1,61.2 554.2,58.2 561.4,58.2 565.1,60.0 572.4,60.6" fill="none" stroke="#f5f5a0" stroke-width="0.9" stroke-linejoin="round"/>
<polyline points="508.1,69.1 514.1,67.3 523.8,67.3 528.7,66.1 537.2,66.1 542.0,68.5 550.5,69.7 556.6,68.5 562.7,67.3 572.4,68.5" fill="none" stroke="#b4f5a0" stroke-width="0.6" stroke-linejoin="round"/>
<g fill="none" stroke="#000" stroke-width="0.85" stroke-linejoin="round" transform="translate(392.4,0.0)">
<polyline points="51.7,25.6 63.9,24.3 63.9,19.2 66.9,18.0 66.9,11.0"/>
<polyline points="76.9,7.0 88.5,14.0 83.5,14.0 86.5,40.0 87.1,40.6 86.2,43.1 75.0,43.1 74.7,43.4 70.8,43.4 68.4,42.7 67.5,44.9 66.3,45.3"/>
<polyline points="88.5,14.0 106.5,25.9 106.6,27.2 112.7,29.9 113.0,32.4 115.8,31.9"/>
<polyline points="53.4,41.5 54.0,40.0 57.9,39.5 60.0,39.7 62.7,41.2 64.2,43.1 66.3,45.3"/>
<polyline points="66.3,45.3 66.9,47.9 68.7,50.8 68.7,52.5"/>
<polyline points="68.7,52.5 65.7,52.8 61.8,51.8 57.9,51.8 52.8,52.7"/>
<polyline points="52.5,48.9 56.4,48.9 57.9,48.2 60.9,49.0 61.5,49.5 60.0,50.1 57.6,49.2 56.4,49.8 52.5,50.4"/>
<polyline points="61.8,51.8 61.8,54.7 58.8,55.3 57.9,57.0"/>
<polyline points="68.7,52.5 70.8,54.1 75.0,52.5 76.5,55.0 77.7,56.8 79.0,59.2"/>
<polyline points="63.0,62.9 65.4,60.2 69.3,59.9 71.1,62.6 72.0,64.4"/>
<polyline points="72.0,64.4 74.4,64.7 75.0,67.5 77.4,67.2"/>
<polyline points="72.0,64.4 71.1,66.0 68.4,69.3"/>
<polyline points="79.0,59.2 78.4,61.4 79.9,64.7 77.4,67.2"/>
<polyline points="77.4,67.2 78.1,70.6 80.8,72.7 80.3,77.0"/>
<polyline points="79.0,59.2 84.4,58.0 86.5,58.6"/>
<polyline points="86.5,58.6 87.1,54.4 89.8,51.6 90.7,49.5 93.1,49.8 94.3,47.6 97.0,47.0 100.9,44.4 103.6,44.7"/>
<polyline points="86.5,58.6 89.2,60.8 94.6,60.8"/>
<polyline points="94.6,60.8 94.9,66.0 93.4,70.6 94.6,74.8"/>
<polyline points="94.6,60.8 94.6,56.8 102.6,56.5"/>
<polyline points="102.6,56.5 104.2,58.9 104.5,65.1 105.1,69.6 106.6,71.8"/>
<polyline points="102.6,56.5 105.7,56.8 107.2,62.0 107.8,71.3"/>
<polyline points="105.7,56.8 110.2,54.1 110.2,52.8"/>
<polyline points="103.6,44.7 103.6,47.6 106.0,49.5 106.0,51.3 109.3,51.6 110.2,52.8 113.9,54.7"/>
<polyline points="113.9,54.7 114.5,58.3 111.5,62.9 111.1,70.9"/>
<polyline points="113.9,54.7 115.4,49.2 121.1,48.6 124.1,50.7 128.6,50.4 133.1,49.8 140.6,50.4 143.9,48.6"/>
<polyline points="103.6,44.7 113.6,43.4 115.8,38.8 115.8,31.9"/>
<polyline points="115.8,31.9 120.5,30.8 125.6,26.5 139.1,18.6"/>
<polyline points="139.1,18.6 137.6,16.2 134.0,15.2 132.5,11.0"/>
<polyline points="139.1,18.6 145.8,21.4 148.2,20.1"/>
<polyline points="148.2,20.1 148.8,24.7 150.0,29.3 149.7,38.8 145.2,44.6 143.6,46.4 143.9,48.6"/>
<polyline points="148.2,20.1 175.2,30.8 175.2,42.4 171.9,43.1 169.2,50.7 170.7,56.8 171.9,57.1"/>
<polyline points="175.2,30.8 175.2,29.3 178.2,29.3 178.2,23.2 178.2,11.0"/>
<polyline points="128.6,76.1 131.0,70.9 134.6,69.0 137.0,70.6 138.8,67.8 141.5,63.8 144.5,56.8 147.0,55.3 145.8,52.5 145.5,50.4"/>
<polyline points="145.5,50.4 147.9,53.1 148.5,57.4 149.7,60.2 145.2,60.2 148.8,67.5"/>
<polyline points="148.8,67.5 152.7,66.9 159.0,65.7 160.5,62.9 164.4,62.6 168.3,58.0 171.9,57.1"/>
<polyline points="148.8,67.5 146.7,71.5 147.3,76.4 148.5,78.5 151.5,83.7"/>
<polyline points="171.9,57.1 174.0,62.9 175.8,65.1 179.2,68.1 182.8,72.1"/>
<polyline points="151.5,83.7 153.0,79.7 159.0,79.7 159.0,77.3 161.7,74.8 166.2,77.3 170.7,77.9 176.7,74.8 182.8,74.5"/>
<polyline points="159.0,79.7 156.6,87.4 156.3,91.9 151.8,96.5 151.8,101.1 148.8,104.2 146.7,105.4 143.6,105.1 142.1,104.2 139.7,107.2"/>
<polyline points="151.5,83.7 143.0,83.7 137.0,83.7 132.5,83.4"/>
<polyline points="137.0,83.7 137.0,87.4 132.5,87.4"/>
<polyline points="143.0,83.7 142.7,86.4 146.4,86.1 146.7,91.9 144.5,93.5 146.4,96.2 146.4,97.8 140.6,96.5 137.9,99.0 136.7,102.3"/>
<polygon points="141.8,47.6 143.9,46.4 146.7,47.6 148.2,50.1 147.0,51.9 144.5,52.2 143.0,50.7 141.5,49.5" fill="#000" stroke="none"/>
</g>
</g>
<polyline points="449.8,12.0 446.6,18.4 444.2,23.2 444.2,25.6 446.0,26.8 446.6,31.0 446.0,35.2 446.6,38.8 444.8,42.4 442.4,45.4 444.2,47.4 444.2,52.2 447.6,53.6 450.0,57.2 452.4,60.6 454.8,62.4 456.1,67.3 460.3,69.7 465.8,74.6 471.8,78.2 477.3,75.6 482.6,74.4 488.8,75.3 494.0,73.2 499.2,71.6 507.6,71.1 510.7,73.2 511.7,76.3 515.9,77.9 521.1,78.4 522.1,81.0 523.7,81.5 523.2,86.2 522.0,92.4 524.9,97.0 529.9,105.0 530.9,107.5" fill="none" stroke="#000" stroke-width="1.8" stroke-linejoin="round"/>
<rect x="519.7" y="79.0" width="1.9" height="2.4" fill="#000"/>
</g>
<rect x="420.2" y="12.7" width="150.4" height="93.1" fill="none" stroke="#000" stroke-width="1.5"/>
<text x="411.0" y="16.0" font-size="8.8" text-anchor="end" stroke="#000" stroke-width="0.42">25°N</text>
<text x="411.0" y="32.7" font-size="8.8" text-anchor="end" stroke="#000" stroke-width="0.42">20°N</text>
<text x="411.0" y="48.0" font-size="8.8" text-anchor="end" stroke="#000" stroke-width="0.42">15°N</text>
<text x="411.0" y="63.3" font-size="8.8" text-anchor="end" stroke="#000" stroke-width="0.42">10°N</text>
<text x="411.0" y="78.5" font-size="8.8" text-anchor="end" stroke="#000" stroke-width="0.42">5°N</text>
<text x="411.0" y="93.8" font-size="8.8" text-anchor="end" stroke="#000" stroke-width="0.42">0°</text>
<text x="411.0" y="109.1" font-size="8.8" text-anchor="end" stroke="#000" stroke-width="0.42">5°S</text>
<text x="435.2" y="121.7" font-size="8.8" text-anchor="middle" stroke="#000" stroke-width="0.42">20°W</text>
<text x="465.3" y="121.7" font-size="8.8" text-anchor="middle" stroke="#000" stroke-width="0.42">10°W</text>
<text x="495.4" y="121.7" font-size="8.8" text-anchor="middle" stroke="#000" stroke-width="0.42">0°</text>
<text x="525.5" y="121.7" font-size="8.8" text-anchor="middle" stroke="#000" stroke-width="0.42">10°E</text>
<text x="555.6" y="121.7" font-size="8.8" text-anchor="middle" stroke="#000" stroke-width="0.42">20°E</text>
<path d="M416.4 12.7H420.2M416.4 29.4H420.2M416.4 44.7H420.2M416.4 60.0H420.2M416.4 75.2H420.2M416.4 90.5H420.2M416.4 105.8H420.2M435.2 105.8V108.8M465.3 105.8V108.8M495.4 105.8V108.8M525.5 105.8V108.8M555.6 105.8V108.8" stroke="#000" stroke-width="1.3" fill="none"/>
<text x="419.8" y="6.5" font-size="8.6" stroke="#000" stroke-width="0.5">CMIP5 RCP8.5 Climate Type</text>
<text x="426.6" y="29.5" font-size="14" stroke="#000" stroke-width="0.3">c)</text>
<g clip-path="url(#fr3)">
<g clip-path="url(#land3)">
<rect x="26.8" y="145.7" width="152.4" height="94.4" fill="#7a0000"/>
<polygon points="57.0,145.8 75.2,145.8 69.1,156.7 64.9,153.7 62.4,157.3 52.7,158.0" fill="#e2000e"/>
<polygon points="112.4,145.2 180.4,145.2 180.4,179.8 171.9,179.2 173.1,175.5 168.2,174.3 167.0,168.3 163.4,165.2 151.2,164.6 150.0,158.6 146.4,158.0 144.0,159.8 139.1,158.6 137.3,161.0 139.1,163.4 142.8,164.6 146.4,167.1 144.0,173.1 139.1,173.1 136.1,175.5 136.1,179.2 130.6,179.2 127.6,174.3 127.6,163.4 124.6,159.8 116.1,162.2 111.8,159.8 115.5,156.1 114.9,150.1" fill="#e2000e"/>
<polygon points="52.1,187.1 58.2,187.1 67.9,185.9 76.4,184.6 88.5,185.9 94.6,187.1 110.0,187.4 114.9,187.7 120.9,185.9 127.0,185.2 130.6,187.7 134.3,191.9 137.9,192.5 146.4,190.7 150.0,193.7 156.1,188.9 163.4,186.5 169.4,184.6 173.1,182.8 180.4,184.0 180.4,244.0 52.1,244.0" fill="#b2e802"/>
<polygon points="122.1,184.3 134.3,187.3 146.4,187.3 145.2,193.4 140.3,194.6 134.3,197.1 131.8,194.6 134.3,191.0 128.2,188.6" fill="#d03200"/>
<polygon points="170.7,179.5 180.4,179.5 180.4,184.9 173.1,183.7" fill="#eb5f19"/>
<polygon points="173.1,183.7 180.4,184.9 180.4,191.0 175.5,189.8" fill="#f0f078"/>
<polygon points="98.6,196.1 111.1,196.1 118.0,200.3 130.5,203.0 134.7,200.9 141.6,198.9 147.1,198.9 147.1,204.4 149.9,205.8 155.5,203.0 161.0,203.0 166.6,200.3 169.3,196.1 173.5,197.5 177.6,193.3 181.8,193.3 181.8,244.0 98.6,244.0" fill="#34f83c" stroke="#dcffd2" stroke-width="0.5" stroke-linejoin="round"/>
<polygon points="59.4,188.0 69.7,188.0 71.5,194.6 83.7,194.0 85.5,198.3 80.6,201.3 81.2,208.6 76.4,210.4 58.2,210.4" fill="#34f83c"/>
<polygon points="63.7,197.7 67.9,196.4 71.5,200.7 75.2,204.3 78.8,208.6 76.4,210.2 70.3,205.3 64.9,201.7" fill="#1030f5"/>
<polygon points="64.9,188.6 67.3,188.6 67.3,192.2 64.9,192.2" fill="#1030f5"/>
<polygon points="97.0,191.0 103.1,191.0 104.3,200.7 98.2,200.7" fill="#507e02"/>
<polygon points="105.5,194.6 110.0,194.0 110.0,203.1 106.1,203.1" fill="#34f83c"/>
<polygon points="84.9,204.3 88.5,204.3 88.5,208.6 84.9,208.6" fill="#34f83c"/>
<polygon points="93.4,204.3 99.4,204.3 99.4,208.6 93.4,208.6" fill="#34f83c"/>
<polygon points="117.3,192.2 128.2,191.0 131.8,194.6 130.6,200.7 124.6,203.1 117.3,198.3" fill="#34f83c" stroke="#f0ffd2" stroke-width="0.5" stroke-linejoin="round"/>
<polygon points="151.2,194.0 158.5,189.2 167.0,186.7 167.0,192.2 161.0,197.1 152.5,197.1" fill="#507e02"/>
<polygon points="151.3,207.2 158.2,205.8 162.4,208.6 161.0,212.7 155.5,216.9 152.7,219.7 147.1,219.0 145.8,216.2 152.7,212.7 154.1,210.0" fill="#b2e802"/>
<polygon points="172.1,204.4 177.6,203.0 177.6,207.2 173.5,207.9" fill="#b2e802"/>
<polygon points="140.3,210.0 145.2,208.7 148.2,214.2 143.4,215.2" fill="#b2e802"/>
<polygon points="144.0,217.8 156.1,216.6 156.1,220.3 146.4,220.3" fill="#b2e802"/>
<polygon points="152.5,232.4 161.0,233.6 167.0,237.2 153.7,238.5" fill="#b2e802"/>
<polygon points="140.3,235.1 151.2,235.1 151.2,238.5 140.3,238.5" fill="#b2e802"/>
<polygon points="171.9,214.2 177.3,214.2 177.3,216.0 171.9,216.0" fill="#b2e802"/>
<polygon points="130.0,208.1 134.3,204.5 137.9,203.3 145.2,202.7 146.4,204.5 139.1,205.7 134.3,209.3" fill="#3c6ee1"/>
<polygon points="130.6,207.5 134.3,204.7 137.3,203.9 138.5,205.7 134.3,208.1" fill="#b9a5e1"/>
<polygon points="120.9,208.1 129.4,209.3 136.7,215.4 136.1,220.3 133.1,223.9 139.1,228.8 140.3,232.4 136.7,236.0 131.8,230.0 130.0,225.1 131.8,217.8 128.2,211.8" fill="#1030f5"/>
<polyline points="52.1,182.2 66.7,181.6 69.1,179.2 76.4,178.6 94.6,178.6 98.2,179.8 110.0,179.8 116.1,178.6 119.1,176.8 122.1,178.6 128.2,181.0 134.3,182.8 141.5,183.4 150.0,183.4 158.5,181.6 164.6,179.8 170.7,179.2 180.4,179.8" fill="none" stroke="#eb5f19" stroke-width="1.25" stroke-linejoin="round"/>
<polyline points="52.1,182.2 66.7,181.6 69.1,179.2 76.4,178.6 94.6,178.6 98.2,179.8 110.0,179.8 116.1,178.6 119.1,176.8 122.1,178.6 128.2,181.0 134.3,182.8 141.5,183.4 150.0,183.4 158.5,181.6 164.6,179.8 170.7,179.2 180.4,179.8" fill="none" stroke="#ffc896" stroke-width="0.3" stroke-linejoin="round"/>
<polyline points="52.1,187.1 58.2,187.1 67.9,185.9 76.4,184.6 88.5,185.9 94.6,187.1 110.0,187.4 114.9,187.7 120.9,185.9 127.0,185.2 130.6,187.7 134.3,191.9 137.9,192.5 146.4,190.7 150.0,193.7 156.1,188.9 163.4,186.5 169.4,184.6 173.1,182.8 180.4,184.0" fill="none" stroke="#ffffff" stroke-width="1.1" stroke-linejoin="round"/>
<g fill="none" stroke="#000" stroke-width="0.85" stroke-linejoin="round" transform="translate(0.0,134.0)">
<polyline points="51.7,25.6 63.9,24.3 63.9,19.2 66.9,18.0 66.9,11.0"/>
<polyline points="76.9,7.0 88.5,14.0 83.5,14.0 86.5,40.0 87.1,40.6 86.2,43.1 75.0,43.1 74.7,43.4 70.8,43.4 68.4,42.7 67.5,44.9 66.3,45.3"/>
<polyline points="88.5,14.0 106.5,25.9 106.6,27.2 112.7,29.9 113.0,32.4 115.8,31.9"/>
<polyline points="53.4,41.5 54.0,40.0 57.9,39.5 60.0,39.7 62.7,41.2 64.2,43.1 66.3,45.3"/>
<polyline points="66.3,45.3 66.9,47.9 68.7,50.8 68.7,52.5"/>
<polyline points="68.7,52.5 65.7,52.8 61.8,51.8 57.9,51.8 52.8,52.7"/>
<polyline points="52.5,48.9 56.4,48.9 57.9,48.2 60.9,49.0 61.5,49.5 60.0,50.1 57.6,49.2 56.4,49.8 52.5,50.4"/>
<polyline points="61.8,51.8 61.8,54.7 58.8,55.3 57.9,57.0"/>
<polyline points="68.7,52.5 70.8,54.1 75.0,52.5 76.5,55.0 77.7,56.8 79.0,59.2"/>
<polyline points="63.0,62.9 65.4,60.2 69.3,59.9 71.1,62.6 72.0,64.4"/>
<polyline points="72.0,64.4 74.4,64.7 75.0,67.5 77.4,67.2"/>
<polyline points="72.0,64.4 71.1,66.0 68.4,69.3"/>
<polyline points="79.0,59.2 78.4,61.4 79.9,64.7 77.4,67.2"/>
<polyline points="77.4,67.2 78.1,70.6 80.8,72.7 80.3,77.0"/>
<polyline points="79.0,59.2 84.4,58.0 86.5,58.6"/>
<polyline points="86.5,58.6 87.1,54.4 89.8,51.6 90.7,49.5 93.1,49.8 94.3,47.6 97.0,47.0 100.9,44.4 103.6,44.7"/>
<polyline points="86.5,58.6 89.2,60.8 94.6,60.8"/>
<polyline points="94.6,60.8 94.9,66.0 93.4,70.6 94.6,74.8"/>
<polyline points="94.6,60.8 94.6,56.8 102.6,56.5"/>
<polyline points="102.6,56.5 104.2,58.9 104.5,65.1 105.1,69.6 106.6,71.8"/>
<polyline points="102.6,56.5 105.7,56.8 107.2,62.0 107.8,71.3"/>
<polyline points="105.7,56.8 110.2,54.1 110.2,52.8"/>
<polyline points="103.6,44.7 103.6,47.6 106.0,49.5 106.0,51.3 109.3,51.6 110.2,52.8 113.9,54.7"/>
<polyline points="113.9,54.7 114.5,58.3 111.5,62.9 111.1,70.9"/>
<polyline points="113.9,54.7 115.4,49.2 121.1,48.6 124.1,50.7 128.6,50.4 133.1,49.8 140.6,50.4 143.9,48.6"/>
<polyline points="103.6,44.7 113.6,43.4 115.8,38.8 115.8,31.9"/>
<polyline points="115.8,31.9 120.5,30.8 125.6,26.5 139.1,18.6"/>
<polyline points="139.1,18.6 137.6,16.2 134.0,15.2 132.5,11.0"/>
<polyline points="139.1,18.6 145.8,21.4 148.2,20.1"/>
<polyline points="148.2,20.1 148.8,24.7 150.0,29.3 149.7,38.8 145.2,44.6 143.6,46.4 143.9,48.6"/>
<polyline points="148.2,20.1 175.2,30.8 175.2,42.4 171.9,43.1 169.2,50.7 170.7,56.8 171.9,57.1"/>
<polyline points="175.2,30.8 175.2,29.3 178.2,29.3 178.2,23.2 178.2,11.0"/>
<polyline points="128.6,76.1 131.0,70.9 134.6,69.0 137.0,70.6 138.8,67.8 141.5,63.8 144.5,56.8 147.0,55.3 145.8,52.5 145.5,50.4"/>
<polyline points="145.5,50.4 147.9,53.1 148.5,57.4 149.7,60.2 145.2,60.2 148.8,67.5"/>
<polyline points="148.8,67.5 152.7,66.9 159.0,65.7 160.5,62.9 164.4,62.6 168.3,58.0 171.9,57.1"/>
<polyline points="148.8,67.5 146.7,71.5 147.3,76.4 148.5,78.5 151.5,83.7"/>
<polyline points="171.9,57.1 174.0,62.9 175.8,65.1 179.2,68.1 182.8,72.1"/>
<polyline points="151.5,83.7 153.0,79.7 159.0,79.7 159.0,77.3 161.7,74.8 166.2,77.3 170.7,77.9 176.7,74.8 182.8,74.5"/>
<polyline points="159.0,79.7 156.6,87.4 156.3,91.9 151.8,96.5 151.8,101.1 148.8,104.2 146.7,105.4 143.6,105.1 142.1,104.2 139.7,107.2"/>
<polyline points="151.5,83.7 143.0,83.7 137.0,83.7 132.5,83.4"/>
<polyline points="137.0,83.7 137.0,87.4 132.5,87.4"/>
<polyline points="143.0,83.7 142.7,86.4 146.4,86.1 146.7,91.9 144.5,93.5 146.4,96.2 146.4,97.8 140.6,96.5 137.9,99.0 136.7,102.3"/>
<polygon points="141.8,47.6 143.9,46.4 146.7,47.6 148.2,50.1 147.0,51.9 144.5,52.2 143.0,50.7 141.5,49.5" fill="#000" stroke="none"/>
</g>
</g>
<polyline points="57.4,146.0 54.2,152.4 51.8,157.2 51.8,159.6 53.6,160.8 54.2,165.0 53.6,169.2 54.2,172.8 52.4,176.4 50.0,179.4 51.8,181.4 51.8,186.2 55.2,187.6 57.6,191.2 60.0,194.6 62.4,196.4 63.7,201.3 67.9,203.7 73.4,208.6 79.4,212.2 84.9,209.6 90.2,208.4 96.4,209.3 101.6,207.2 106.8,205.6 115.2,205.1 118.3,207.2 119.3,210.3 123.5,211.9 128.7,212.4 129.7,215.0 131.3,215.5 130.8,220.2 129.6,226.4 132.5,231.0 137.5,239.0 138.5,241.5" fill="none" stroke="#000" stroke-width="1.8" stroke-linejoin="round"/>
<rect x="127.3" y="213.0" width="1.9" height="2.4" fill="#000"/>
</g>
<rect x="27.8" y="146.7" width="150.4" height="92.4" fill="none" stroke="#000" stroke-width="1.5"/>
<text x="18.6" y="150.0" font-size="8.8" text-anchor="end" stroke="#000" stroke-width="0.42">25°N</text>
<text x="18.6" y="166.0" font-size="8.8" text-anchor="end" stroke="#000" stroke-width="0.42">20°N</text>
<text x="18.6" y="181.3" font-size="8.8" text-anchor="end" stroke="#000" stroke-width="0.42">15°N</text>
<text x="18.6" y="196.6" font-size="8.8" text-anchor="end" stroke="#000" stroke-width="0.42">10°N</text>
<text x="18.6" y="211.8" font-size="8.8" text-anchor="end" stroke="#000" stroke-width="0.42">5°N</text>
<text x="18.6" y="227.1" font-size="8.8" text-anchor="end" stroke="#000" stroke-width="0.42">0°</text>
<text x="18.6" y="242.4" font-size="8.8" text-anchor="end" stroke="#000" stroke-width="0.42">5°S</text>
<text x="42.8" y="255.0" font-size="8.8" text-anchor="middle" stroke="#000" stroke-width="0.42">20°W</text>
<text x="72.9" y="255.0" font-size="8.8" text-anchor="middle" stroke="#000" stroke-width="0.42">10°W</text>
<text x="103.0" y="255.0" font-size="8.8" text-anchor="middle" stroke="#000" stroke-width="0.42">0°</text>
<text x="133.1" y="255.0" font-size="8.8" text-anchor="middle" stroke="#000" stroke-width="0.42">10°E</text>
<text x="163.2" y="255.0" font-size="8.8" text-anchor="middle" stroke="#000" stroke-width="0.42">20°E</text>
<path d="M24.0 146.7H27.8M24.0 162.7H27.8M24.0 178.0H27.8M24.0 193.3H27.8M24.0 208.5H27.8M24.0 223.8H27.8M24.0 239.1H27.8M42.8 239.1V242.1M72.9 239.1V242.1M103.0 239.1V242.1M133.1 239.1V242.1M163.2 239.1V242.1" stroke="#000" stroke-width="1.3" fill="none"/>
<text x="27.4" y="139.6" font-size="8.6" stroke="#000" stroke-width="0.5">CORDEX Historical Climate Type</text>
<text x="34.2" y="163.5" font-size="14" stroke="#000" stroke-width="0.3">d)</text>
<g clip-path="url(#fr4)">
<g clip-path="url(#land4)">
<rect x="223.1" y="145.7" width="152.4" height="94.4" fill="#7a0000"/>
<polygon points="252.4,145.8 259.1,145.8 254.2,151.9 249.3,156.1" fill="#e2000e"/>
<polygon points="315.1,147.6 330.3,147.6 327.8,152.5 324.2,155.5 318.1,154.9 315.1,151.3" fill="#e2000e"/>
<polygon points="332.7,147.6 342.4,147.6 341.2,150.7 335.1,150.7" fill="#e2000e"/>
<polygon points="346.0,151.3 350.9,152.5 354.5,156.1 359.4,157.3 358.2,161.0 355.7,163.4 352.1,161.6 348.5,157.3 346.0,154.3" fill="#e2000e"/>
<polygon points="357.0,147.6 365.4,147.6 364.2,152.5 359.4,155.5 357.0,152.5" fill="#e2000e"/>
<polygon points="325.4,165.2 327.2,165.2 327.2,169.5 325.4,169.5" fill="#e2000e"/>
<polygon points="367.9,171.3 370.9,171.3 370.9,174.3 367.9,174.3" fill="#e2000e"/>
<polygon points="369.7,176.1 375.2,176.1 375.2,179.8 369.7,179.8" fill="#e2000e"/>
<polygon points="372.1,150.1 375.2,150.1 375.2,155.5 372.1,155.5" fill="#e2000e"/>
<polygon points="248.1,187.3 254.2,187.3 266.3,186.7 272.4,185.5 278.5,186.7 284.5,187.3 291.8,189.2 306.0,189.5 310.9,190.4 313.3,188.0 321.8,187.3 325.4,189.2 327.8,193.4 330.3,197.7 335.1,198.3 342.4,197.1 346.0,194.0 350.9,192.2 354.5,188.6 360.6,189.2 365.4,186.1 369.1,183.7 376.4,182.5 376.4,244.0 248.1,244.0" fill="#507e02"/>
<polygon points="304.8,198.3 313.3,197.7 318.1,201.9 325.4,203.7 330.3,201.9 335.1,198.9 342.4,197.7 346.0,203.1 349.7,206.8 347.2,210.4 349.7,217.7 352.1,214.0 354.5,205.5 358.2,200.7 366.7,194.6 371.5,189.8 376.4,188.6 376.4,244.0 304.8,244.0" fill="#34f83c" stroke="#e6ffd2" stroke-width="0.5" stroke-linejoin="round"/>
<polygon points="304.8,198.3 313.3,197.7 318.1,201.9 325.4,203.7 326.6,210.4 304.8,210.4" fill="#02b904"/>
<polygon points="354.5,211.8 376.4,209.3 376.4,234.8 364.2,234.8 357.0,232.4 352.1,226.3 353.3,217.8" fill="#02b904"/>
<polygon points="346.0,233.6 354.5,231.2 360.6,234.8 376.4,236.0 376.4,240.9 346.0,240.9" fill="#507e02"/>
<polygon points="256.0,189.2 262.7,188.0 264.5,192.2 267.5,195.2 272.4,195.8 276.0,200.1 276.6,203.7 278.5,206.1 277.2,210.4 254.2,210.4" fill="#34f83c"/>
<polygon points="260.3,197.7 264.5,196.4 267.5,200.1 271.2,204.3 274.8,207.4 273.6,210.2 267.5,205.5 261.5,201.9" fill="#1030f5"/>
<polygon points="279.7,206.1 282.7,206.1 282.7,209.2 279.7,209.2" fill="#34f83c"/>
<polygon points="285.7,204.3 289.4,204.3 289.4,208.0 285.7,208.0" fill="#34f83c"/>
<polygon points="291.2,204.9 294.2,204.9 294.2,208.6 291.2,208.6" fill="#34f83c"/>
<polygon points="291.8,191.0 300.3,191.0 300.3,203.1 291.8,204.3" fill="#6e9a0a"/>
<polygon points="300.9,194.6 303.3,194.6 303.3,203.1 300.9,203.1" fill="#50f255"/>
<polygon points="318.7,194.6 325.4,193.4 327.2,196.4 324.2,198.9 319.3,197.7" fill="#34f83c"/>
<polygon points="336.3,208.1 342.4,209.3 343.6,214.2 337.5,215.4" fill="#b2e802"/>
<polygon points="344.8,206.9 348.5,207.5 349.7,213.0 346.0,212.4" fill="#b2e802"/>
<polygon points="349.7,214.2 354.5,211.8 354.5,216.6 350.9,220.3 348.5,217.8" fill="#507e02"/>
<polygon points="316.9,207.5 325.4,208.7 330.3,204.5 335.1,202.1 342.4,202.1 342.4,203.9 335.1,204.5 331.5,208.1 332.1,215.4 329.1,222.7 335.1,228.8 336.3,232.4 333.9,236.0 327.8,230.0 325.4,225.1 327.8,216.6 324.2,211.8" fill="#1030f5"/>
<polyline points="248.1,182.8 262.7,182.2 266.3,179.8 274.8,179.2 290.6,179.2 294.2,180.4 306.0,180.2 312.1,178.6 315.7,177.4 319.3,178.6 324.2,180.4 330.3,182.8 337.5,183.4 346.0,183.4 354.5,181.6 360.6,179.8 365.4,178.6 376.4,179.8" fill="none" stroke="#eb5f19" stroke-width="1.1" stroke-linejoin="round"/>
<polyline points="248.1,182.8 262.7,182.2 266.3,179.8 274.8,179.2 290.6,179.2 294.2,180.4 306.0,180.2 312.1,178.6 315.7,177.4 319.3,178.6 324.2,180.4 330.3,182.8 337.5,183.4 346.0,183.4 354.5,181.6 360.6,179.8 365.4,178.6 376.4,179.8" fill="none" stroke="#ffd8b0" stroke-width="0.35" stroke-linejoin="round"/>
<polyline points="248.1,187.3 254.2,187.3 266.3,186.7 272.4,185.5 278.5,186.7 284.5,187.3 291.8,189.2 306.0,189.5 310.9,190.4 313.3,188.0 321.8,187.3 325.4,189.2 327.8,193.4 330.3,197.7 335.1,198.3 342.4,197.1 346.0,194.0 350.9,192.2 354.5,188.6 360.6,189.2 365.4,186.1 369.1,183.7 376.4,182.5" fill="none" stroke="#ffffff" stroke-width="1.1" stroke-linejoin="round"/>
<polyline points="358.2,201.9 363.0,198.3 369.1,198.3 371.5,203.1 366.7,206.8 360.6,205.5 358.2,201.9" fill="none" stroke="#d0f5c0" stroke-width="0.5" stroke-linejoin="round"/>
<g fill="none" stroke="#000" stroke-width="0.85" stroke-linejoin="round" transform="translate(196.3,134.0)">
<polyline points="51.7,25.6 63.9,24.3 63.9,19.2 66.9,18.0 66.9,11.0"/>
<polyline points="76.9,7.0 88.5,14.0 83.5,14.0 86.5,40.0 87.1,40.6 86.2,43.1 75.0,43.1 74.7,43.4 70.8,43.4 68.4,42.7 67.5,44.9 66.3,45.3"/>
<polyline points="88.5,14.0 106.5,25.9 106.6,27.2 112.7,29.9 113.0,32.4 115.8,31.9"/>
<polyline points="53.4,41.5 54.0,40.0 57.9,39.5 60.0,39.7 62.7,41.2 64.2,43.1 66.3,45.3"/>
<polyline points="66.3,45.3 66.9,47.9 68.7,50.8 68.7,52.5"/>
<polyline points="68.7,52.5 65.7,52.8 61.8,51.8 57.9,51.8 52.8,52.7"/>
<polyline points="52.5,48.9 56.4,48.9 57.9,48.2 60.9,49.0 61.5,49.5 60.0,50.1 57.6,49.2 56.4,49.8 52.5,50.4"/>
<polyline points="61.8,51.8 61.8,54.7 58.8,55.3 57.9,57.0"/>
<polyline points="68.7,52.5 70.8,54.1 75.0,52.5 76.5,55.0 77.7,56.8 79.0,59.2"/>
<polyline points="63.0,62.9 65.4,60.2 69.3,59.9 71.1,62.6 72.0,64.4"/>
<polyline points="72.0,64.4 74.4,64.7 75.0,67.5 77.4,67.2"/>
<polyline points="72.0,64.4 71.1,66.0 68.4,69.3"/>
<polyline points="79.0,59.2 78.4,61.4 79.9,64.7 77.4,67.2"/>
<polyline points="77.4,67.2 78.1,70.6 80.8,72.7 80.3,77.0"/>
<polyline points="79.0,59.2 84.4,58.0 86.5,58.6"/>
<polyline points="86.5,58.6 87.1,54.4 89.8,51.6 90.7,49.5 93.1,49.8 94.3,47.6 97.0,47.0 100.9,44.4 103.6,44.7"/>
<polyline points="86.5,58.6 89.2,60.8 94.6,60.8"/>
<polyline points="94.6,60.8 94.9,66.0 93.4,70.6 94.6,74.8"/>
<polyline points="94.6,60.8 94.6,56.8 102.6,56.5"/>
<polyline points="102.6,56.5 104.2,58.9 104.5,65.1 105.1,69.6 106.6,71.8"/>
<polyline points="102.6,56.5 105.7,56.8 107.2,62.0 107.8,71.3"/>
<polyline points="105.7,56.8 110.2,54.1 110.2,52.8"/>
<polyline points="103.6,44.7 103.6,47.6 106.0,49.5 106.0,51.3 109.3,51.6 110.2,52.8 113.9,54.7"/>
<polyline points="113.9,54.7 114.5,58.3 111.5,62.9 111.1,70.9"/>
<polyline points="113.9,54.7 115.4,49.2 121.1,48.6 124.1,50.7 128.6,50.4 133.1,49.8 140.6,50.4 143.9,48.6"/>
<polyline points="103.6,44.7 113.6,43.4 115.8,38.8 115.8,31.9"/>
<polyline points="115.8,31.9 120.5,30.8 125.6,26.5 139.1,18.6"/>
<polyline points="139.1,18.6 137.6,16.2 134.0,15.2 132.5,11.0"/>
<polyline points="139.1,18.6 145.8,21.4 148.2,20.1"/>
<polyline points="148.2,20.1 148.8,24.7 150.0,29.3 149.7,38.8 145.2,44.6 143.6,46.4 143.9,48.6"/>
<polyline points="148.2,20.1 175.2,30.8 175.2,42.4 171.9,43.1 169.2,50.7 170.7,56.8 171.9,57.1"/>
<polyline points="175.2,30.8 175.2,29.3 178.2,29.3 178.2,23.2 178.2,11.0"/>
<polyline points="128.6,76.1 131.0,70.9 134.6,69.0 137.0,70.6 138.8,67.8 141.5,63.8 144.5,56.8 147.0,55.3 145.8,52.5 145.5,50.4"/>
<polyline points="145.5,50.4 147.9,53.1 148.5,57.4 149.7,60.2 145.2,60.2 148.8,67.5"/>
<polyline points="148.8,67.5 152.7,66.9 159.0,65.7 160.5,62.9 164.4,62.6 168.3,58.0 171.9,57.1"/>
<polyline points="148.8,67.5 146.7,71.5 147.3,76.4 148.5,78.5 151.5,83.7"/>
<polyline points="171.9,57.1 174.0,62.9 175.8,65.1 179.2,68.1 182.8,72.1"/>
<polyline points="151.5,83.7 153.0,79.7 159.0,79.7 159.0,77.3 161.7,74.8 166.2,77.3 170.7,77.9 176.7,74.8 182.8,74.5"/>
<polyline points="159.0,79.7 156.6,87.4 156.3,91.9 151.8,96.5 151.8,101.1 148.8,104.2 146.7,105.4 143.6,105.1 142.1,104.2 139.7,107.2"/>
<polyline points="151.5,83.7 143.0,83.7 137.0,83.7 132.5,83.4"/>
<polyline points="137.0,83.7 137.0,87.4 132.5,87.4"/>
<polyline points="143.0,83.7 142.7,86.4 146.4,86.1 146.7,91.9 144.5,93.5 146.4,96.2 146.4,97.8 140.6,96.5 137.9,99.0 136.7,102.3"/>
<polygon points="141.8,47.6 143.9,46.4 146.7,47.6 148.2,50.1 147.0,51.9 144.5,52.2 143.0,50.7 141.5,49.5" fill="#000" stroke="none"/>
</g>
</g>
<polyline points="253.7,146.0 250.5,152.4 248.1,157.2 248.1,159.6 249.9,160.8 250.5,165.0 249.9,169.2 250.5,172.8 248.7,176.4 246.3,179.4 248.1,181.4 248.1,186.2 251.5,187.6 253.9,191.2 256.3,194.6 258.7,196.4 260.0,201.3 264.2,203.7 269.7,208.6 275.7,212.2 281.2,209.6 286.5,208.4 292.7,209.3 297.9,207.2 303.1,205.6 311.5,205.1 314.6,207.2 315.6,210.3 319.8,211.9 325.0,212.4 326.0,215.0 327.6,215.5 327.1,220.2 325.9,226.4 328.8,231.0 333.8,239.0 334.8,241.5" fill="none" stroke="#000" stroke-width="1.8" stroke-linejoin="round"/>
<rect x="323.6" y="213.0" width="1.9" height="2.4" fill="#000"/>
</g>
<rect x="224.1" y="146.7" width="150.4" height="92.4" fill="none" stroke="#000" stroke-width="1.5"/>
<text x="214.9" y="150.0" font-size="8.8" text-anchor="end" stroke="#000" stroke-width="0.42">25°N</text>
<text x="214.9" y="166.0" font-size="8.8" text-anchor="end" stroke="#000" stroke-width="0.42">20°N</text>
<text x="214.9" y="181.3" font-size="8.8" text-anchor="end" stroke="#000" stroke-width="0.42">15°N</text>
<text x="214.9" y="196.6" font-size="8.8" text-anchor="end" stroke="#000" stroke-width="0.42">10°N</text>
<text x="214.9" y="211.8" font-size="8.8" text-anchor="end" stroke="#000" stroke-width="0.42">5°N</text>
<text x="214.9" y="227.1" font-size="8.8" text-anchor="end" stroke="#000" stroke-width="0.42">0°</text>
<text x="214.9" y="242.4" font-size="8.8" text-anchor="end" stroke="#000" stroke-width="0.42">5°S</text>
<text x="239.1" y="255.0" font-size="8.8" text-anchor="middle" stroke="#000" stroke-width="0.42">20°W</text>
<text x="269.2" y="255.0" font-size="8.8" text-anchor="middle" stroke="#000" stroke-width="0.42">10°W</text>
<text x="299.3" y="255.0" font-size="8.8" text-anchor="middle" stroke="#000" stroke-width="0.42">0°</text>
<text x="329.4" y="255.0" font-size="8.8" text-anchor="middle" stroke="#000" stroke-width="0.42">10°E</text>
<text x="359.5" y="255.0" font-size="8.8" text-anchor="middle" stroke="#000" stroke-width="0.42">20°E</text>
<path d="M220.3 146.7H224.1M220.3 162.7H224.1M220.3 178.0H224.1M220.3 193.3H224.1M220.3 208.5H224.1M220.3 223.8H224.1M220.3 239.1H224.1M239.1 239.1V242.1M269.2 239.1V242.1M299.3 239.1V242.1M329.4 239.1V242.1M359.5 239.1V242.1" stroke="#000" stroke-width="1.3" fill="none"/>
<text x="223.7" y="139.6" font-size="8.6" stroke="#000" stroke-width="0.5">CORDEX RCP4.5 Climate Type</text>
<text x="230.5" y="163.5" font-size="14" stroke="#000" stroke-width="0.3">e)</text>
<g clip-path="url(#fr5)">
<g clip-path="url(#land5)">
<rect x="419.2" y="145.7" width="152.4" height="94.4" fill="#7a0000"/>
<polygon points="512.3,153.1 517.8,147.6 518.4,149.5 514.1,153.7" fill="#e2000e"/>
<polygon points="545.7,158.6 551.7,156.1 553.0,159.2 551.1,162.2 548.1,160.4" fill="#e2000e"/>
<polygon points="444.1,188.6 450.2,188.6 459.9,189.2 463.5,192.2 468.4,192.8 473.2,191.6 478.1,189.2 481.7,191.6 485.4,192.8 486.6,191.0 497.5,191.0 502.0,192.2 506.9,192.2 509.3,189.8 516.6,189.2 523.8,192.8 524.4,200.7 528.7,197.1 533.5,197.7 538.4,195.8 543.2,198.3 550.5,197.1 555.4,193.4 560.2,192.2 565.1,193.4 572.4,197.1 572.4,244.0 444.1,244.0" fill="#507e02"/>
<polygon points="485.4,190.4 496.3,190.4 496.9,202.5 492.7,201.3 489.0,200.1 486.0,195.8" fill="#7a0000"/>
<polygon points="501.2,189.0 505.2,189.0 505.2,198.0 501.2,199.0" fill="#7a0000"/>
<polygon points="505.6,193.4 511.7,194.0 511.7,198.3 506.9,198.3" fill="#7a0000"/>
<polygon points="451.4,189.2 459.9,189.2 463.5,192.8 467.2,195.2 470.8,198.3 470.8,204.3 473.2,210.4 450.2,210.4" fill="#34f83c"/>
<polygon points="456.3,198.3 458.7,197.7 463.5,202.5 468.4,206.1 470.8,209.8 468.4,210.2 462.3,205.3" fill="#1030f5"/>
<polygon points="486.6,199.5 491.4,201.3 494.5,204.9 489.0,208.6 485.4,206.8" fill="#86b808"/>
<polygon points="563.9,185.5 568.7,182.5 569.3,185.5 566.3,188.6" fill="#86b808" stroke="#f0f064" stroke-width="0.6" stroke-linejoin="round"/>
<polygon points="544.5,194.6 548.7,193.4 549.9,196.4 545.7,197.7" fill="#86b808" stroke="#f0f064" stroke-width="0.6" stroke-linejoin="round"/>
<polygon points="532.9,191.6 537.2,191.0 537.2,194.0 533.5,194.6" fill="#86b808" stroke="#f0f064" stroke-width="0.6" stroke-linejoin="round"/>
<polygon points="504.4,201.9 510.5,200.7 515.3,204.9 522.6,206.1 522.6,209.2 514.1,208.6 508.1,204.9" fill="#34f83c"/>
<polygon points="526.3,208.1 531.1,203.3 537.2,200.9 543.2,203.3 542.0,206.3 536.0,208.1 531.1,209.3 529.9,214.2 528.1,214.2" fill="#50f255"/>
<polygon points="528.1,220.3 531.1,219.1 534.8,223.9 540.8,227.5 543.2,232.4 538.4,236.6 532.3,238.5 531.1,232.4 531.1,228.8 525.1,223.9" fill="#34f83c"/>
<polygon points="559.0,198.3 565.1,196.4 566.3,198.9 560.8,200.7" fill="#34f83c"/>
<polygon points="516.6,194.0 522.6,193.4 523.2,196.4 517.2,197.1" fill="#34f83c"/>
<polygon points="512.9,208.1 520.2,208.7 525.1,205.1 531.1,202.1 532.3,203.9 526.3,208.1 528.1,214.2 528.1,220.3 525.1,223.9 531.1,228.8 531.7,232.4 528.7,234.8 523.2,228.8 522.0,225.1 524.4,217.8 520.2,211.8" fill="#1030f5"/>
<polyline points="444.1,185.2 458.7,185.9 462.3,183.4 468.4,182.2 474.5,182.2 476.9,183.4 480.5,182.8 484.2,180.4 486.6,181.6 502.0,181.6 508.1,180.4 512.3,178.6 515.3,181.0 520.2,182.2 526.3,184.6 531.1,186.5 538.4,186.5 543.2,184.6 550.5,183.4 556.6,181.6 561.4,179.2 566.3,181.0 572.4,180.4" fill="none" stroke="#eb5f19" stroke-width="1.0" stroke-linejoin="round"/>
<polyline points="444.1,185.2 458.7,185.9 462.3,183.4 468.4,182.2 474.5,182.2 476.9,183.4 480.5,182.8 484.2,180.4 486.6,181.6 502.0,181.6 508.1,180.4 512.3,178.6 515.3,181.0 520.2,182.2 526.3,184.6 531.1,186.5 538.4,186.5 543.2,184.6 550.5,183.4 556.6,181.6 561.4,179.2 566.3,181.0 572.4,180.4" fill="none" stroke="#ffd8b0" stroke-width="0.35" stroke-linejoin="round"/>
<polyline points="444.1,188.6 450.2,188.6 459.9,189.2 463.5,192.2 468.4,192.8 473.2,191.6 478.1,189.2 481.7,191.6 485.4,192.8 486.6,191.0 497.5,191.0 502.0,192.2 506.9,192.2 509.3,189.8 516.6,189.2 523.8,192.8 524.4,200.7 528.7,197.1 533.5,197.7 538.4,195.8 543.2,198.3 550.5,197.1 555.4,193.4 560.2,192.2 565.1,193.4 572.4,197.1" fill="none" stroke="#fafad2" stroke-width="0.9" stroke-linejoin="round"/>
<g fill="none" stroke="#000" stroke-width="0.85" stroke-linejoin="round" transform="translate(392.4,134.0)">
<polyline points="51.7,25.6 63.9,24.3 63.9,19.2 66.9,18.0 66.9,11.0"/>
<polyline points="76.9,7.0 88.5,14.0 83.5,14.0 86.5,40.0 87.1,40.6 86.2,43.1 75.0,43.1 74.7,43.4 70.8,43.4 68.4,42.7 67.5,44.9 66.3,45.3"/>
<polyline points="88.5,14.0 106.5,25.9 106.6,27.2 112.7,29.9 113.0,32.4 115.8,31.9"/>
<polyline points="53.4,41.5 54.0,40.0 57.9,39.5 60.0,39.7 62.7,41.2 64.2,43.1 66.3,45.3"/>
<polyline points="66.3,45.3 66.9,47.9 68.7,50.8 68.7,52.5"/>
<polyline points="68.7,52.5 65.7,52.8 61.8,51.8 57.9,51.8 52.8,52.7"/>
<polyline points="52.5,48.9 56.4,48.9 57.9,48.2 60.9,49.0 61.5,49.5 60.0,50.1 57.6,49.2 56.4,49.8 52.5,50.4"/>
<polyline points="61.8,51.8 61.8,54.7 58.8,55.3 57.9,57.0"/>
<polyline points="68.7,52.5 70.8,54.1 75.0,52.5 76.5,55.0 77.7,56.8 79.0,59.2"/>
<polyline points="63.0,62.9 65.4,60.2 69.3,59.9 71.1,62.6 72.0,64.4"/>
<polyline points="72.0,64.4 74.4,64.7 75.0,67.5 77.4,67.2"/>
<polyline points="72.0,64.4 71.1,66.0 68.4,69.3"/>
<polyline points="79.0,59.2 78.4,61.4 79.9,64.7 77.4,67.2"/>
<polyline points="77.4,67.2 78.1,70.6 80.8,72.7 80.3,77.0"/>
<polyline points="79.0,59.2 84.4,58.0 86.5,58.6"/>
<polyline points="86.5,58.6 87.1,54.4 89.8,51.6 90.7,49.5 93.1,49.8 94.3,47.6 97.0,47.0 100.9,44.4 103.6,44.7"/>
<polyline points="86.5,58.6 89.2,60.8 94.6,60.8"/>
<polyline points="94.6,60.8 94.9,66.0 93.4,70.6 94.6,74.8"/>
<polyline points="94.6,60.8 94.6,56.8 102.6,56.5"/>
<polyline points="102.6,56.5 104.2,58.9 104.5,65.1 105.1,69.6 106.6,71.8"/>
<polyline points="102.6,56.5 105.7,56.8 107.2,62.0 107.8,71.3"/>
<polyline points="105.7,56.8 110.2,54.1 110.2,52.8"/>
<polyline points="103.6,44.7 103.6,47.6 106.0,49.5 106.0,51.3 109.3,51.6 110.2,52.8 113.9,54.7"/>
<polyline points="113.9,54.7 114.5,58.3 111.5,62.9 111.1,70.9"/>
<polyline points="113.9,54.7 115.4,49.2 121.1,48.6 124.1,50.7 128.6,50.4 133.1,49.8 140.6,50.4 143.9,48.6"/>
<polyline points="103.6,44.7 113.6,43.4 115.8,38.8 115.8,31.9"/>
<polyline points="115.8,31.9 120.5,30.8 125.6,26.5 139.1,18.6"/>
<polyline points="139.1,18.6 137.6,16.2 134.0,15.2 132.5,11.0"/>
<polyline points="139.1,18.6 145.8,21.4 148.2,20.1"/>
<polyline points="148.2,20.1 148.8,24.7 150.0,29.3 149.7,38.8 145.2,44.6 143.6,46.4 143.9,48.6"/>
<polyline points="148.2,20.1 175.2,30.8 175.2,42.4 171.9,43.1 169.2,50.7 170.7,56.8 171.9,57.1"/>
<polyline points="175.2,30.8 175.2,29.3 178.2,29.3 178.2,23.2 178.2,11.0"/>
<polyline points="128.6,76.1 131.0,70.9 134.6,69.0 137.0,70.6 138.8,67.8 141.5,63.8 144.5,56.8 147.0,55.3 145.8,52.5 145.5,50.4"/>
<polyline points="145.5,50.4 147.9,53.1 148.5,57.4 149.7,60.2 145.2,60.2 148.8,67.5"/>
<polyline points="148.8,67.5 152.7,66.9 159.0,65.7 160.5,62.9 164.4,62.6 168.3,58.0 171.9,57.1"/>
<polyline points="148.8,67.5 146.7,71.5 147.3,76.4 148.5,78.5 151.5,83.7"/>
<polyline points="171.9,57.1 174.0,62.9 175.8,65.1 179.2,68.1 182.8,72.1"/>
<polyline points="151.5,83.7 153.0,79.7 159.0,79.7 159.0,77.3 161.7,74.8 166.2,77.3 170.7,77.9 176.7,74.8 182.8,74.5"/>
<polyline points="159.0,79.7 156.6,87.4 156.3,91.9 151.8,96.5 151.8,101.1 148.8,104.2 146.7,105.4 143.6,105.1 142.1,104.2 139.7,107.2"/>
<polyline points="151.5,83.7 143.0,83.7 137.0,83.7 132.5,83.4"/>
<polyline points="137.0,83.7 137.0,87.4 132.5,87.4"/>
<polyline points="143.0,83.7 142.7,86.4 146.4,86.1 146.7,91.9 144.5,93.5 146.4,96.2 146.4,97.8 140.6,96.5 137.9,99.0 136.7,102.3"/>
<polygon points="141.8,47.6 143.9,46.4 146.7,47.6 148.2,50.1 147.0,51.9 144.5,52.2 143.0,50.7 141.5,49.5" fill="#000" stroke="none"/>
</g>
</g>
<polyline points="449.8,146.0 446.6,152.4 444.2,157.2 444.2,159.6 446.0,160.8 446.6,165.0 446.0,169.2 446.6,172.8 444.8,176.4 442.4,179.4 444.2,181.4 444.2,186.2 447.6,187.6 450.0,191.2 452.4,194.6 454.8,196.4 456.1,201.3 460.3,203.7 465.8,208.6 471.8,212.2 477.3,209.6 482.6,208.4 488.8,209.3 494.0,207.2 499.2,205.6 507.6,205.1 510.7,207.2 511.7,210.3 515.9,211.9 521.1,212.4 522.1,215.0 523.7,215.5 523.2,220.2 522.0,226.4 524.9,231.0 529.9,239.0 530.9,241.5" fill="none" stroke="#000" stroke-width="1.8" stroke-linejoin="round"/>
<rect x="519.7" y="213.0" width="1.9" height="2.4" fill="#000"/>
</g>
<rect x="420.2" y="146.7" width="150.4" height="92.4" fill="none" stroke="#000" stroke-width="1.5"/>
<text x="411.0" y="150.0" font-size="8.8" text-anchor="end" stroke="#000" stroke-width="0.42">25°N</text>
<text x="411.0" y="166.0" font-size="8.8" text-anchor="end" stroke="#000" stroke-width="0.42">20°N</text>
<text x="411.0" y="181.3" font-size="8.8" text-anchor="end" stroke="#000" stroke-width="0.42">15°N</text>
<text x="411.0" y="196.6" font-size="8.8" text-anchor="end" stroke="#000" stroke-width="0.42">10°N</text>
<text x="411.0" y="211.8" font-size="8.8" text-anchor="end" stroke="#000" stroke-width="0.42">5°N</text>
<text x="411.0" y="227.1" font-size="8.8" text-anchor="end" stroke="#000" stroke-width="0.42">0°</text>
<text x="411.0" y="242.4" font-size="8.8" text-anchor="end" stroke="#000" stroke-width="0.42">5°S</text>
<text x="435.2" y="255.0" font-size="8.8" text-anchor="middle" stroke="#000" stroke-width="0.42">20°W</text>
<text x="465.3" y="255.0" font-size="8.8" text-anchor="middle" stroke="#000" stroke-width="0.42">10°W</text>
<text x="495.4" y="255.0" font-size="8.8" text-anchor="middle" stroke="#000" stroke-width="0.42">0°</text>
<text x="525.5" y="255.0" font-size="8.8" text-anchor="middle" stroke="#000" stroke-width="0.42">10°E</text>
<text x="555.6" y="255.0" font-size="8.8" text-anchor="middle" stroke="#000" stroke-width="0.42">20°E</text>
<path d="M416.4 146.7H420.2M416.4 162.7H420.2M416.4 178.0H420.2M416.4 193.3H420.2M416.4 208.5H420.2M416.4 223.8H420.2M416.4 239.1H420.2M435.2 239.1V242.1M465.3 239.1V242.1M495.4 239.1V242.1M525.5 239.1V242.1M555.6 239.1V242.1" stroke="#000" stroke-width="1.3" fill="none"/>
<text x="419.8" y="139.6" font-size="8.6" stroke="#000" stroke-width="0.5">CORDEX RCP8.5 Climate Type</text>
<text x="426.6" y="163.5" font-size="14" stroke="#000" stroke-width="0.3">f)</text>
<g clip-path="url(#fr6)">
<g clip-path="url(#land6)">
<rect x="26.8" y="279.1" width="152.4" height="94.3" fill="#7a0000"/>
<polygon points="55.8,279.2 85.5,279.2 85.5,292.6 95.8,293.2 93.4,297.4 91.0,302.3 88.5,304.1 86.7,301.7 84.9,296.2 81.2,298.0 76.4,300.4 70.3,301.1 67.9,297.4 64.3,294.4 52.7,293.8 51.5,288.9 54.0,285.3" fill="#e2000e"/>
<polygon points="76.4,284.1 83.7,281.6 84.3,288.9 81.2,293.8 78.8,290.1 75.8,287.1" fill="#7a0000"/>
<polygon points="104.1,279.2 145.4,279.2 145.4,313.2 140.5,312.0 133.2,314.4 127.2,314.4 122.3,310.8 126.0,305.9 127.2,299.8 126.0,296.2 116.2,299.2 111.4,293.8 106.5,290.1 104.7,285.3" fill="#e2000e"/>
<polygon points="110.0,279.2 180.4,279.2 180.4,308.3 173.1,308.9 170.7,313.2 167.0,314.4 168.2,310.8 167.0,304.7 161.0,308.3 150.0,313.2 150.0,315.6 141.5,314.4 134.3,316.8 128.2,316.8 120.9,314.4 122.1,308.3 125.8,305.9 127.0,302.3 125.8,296.2 117.3,298.6 110.0,299.8" fill="#e2000e"/>
<polygon points="153.7,303.5 159.7,302.3 161.0,305.3 154.9,306.5" fill="#7a0000"/>
<polygon points="117.3,279.2 180.4,279.2 180.4,308.3 173.1,307.1 170.7,299.8 165.8,295.0 158.5,291.3 151.2,288.9 146.4,285.3 139.1,284.1 134.3,286.5 128.2,290.1 122.1,289.5 117.3,286.5" fill="#d7183e"/>
<polygon points="52.1,320.1 59.4,322.0 70.3,321.3 76.4,322.0 81.2,323.8 88.5,323.2 93.4,326.2 94.6,324.4 110.0,324.1 116.1,323.8 122.1,321.3 131.8,323.8 134.3,328.6 140.3,331.1 146.4,329.8 152.5,332.3 161.0,331.1 167.0,327.4 170.7,323.8 174.3,320.1 180.4,320.1 180.4,378.0 52.1,378.0" fill="#34f83c"/>
<polygon points="94.6,323.8 104.3,323.8 103.1,329.8 100.7,333.5 97.0,332.3 95.2,328.6" fill="#7a0000"/>
<polygon points="124.6,318.9 134.3,320.1 140.3,321.3 134.3,326.2 131.8,323.8 125.8,322.6" fill="#d03200"/>
<polygon points="167.0,312.9 173.1,312.9 174.3,320.1 170.7,323.8 169.4,317.7" fill="#d03200"/>
<polygon points="123.5,319.2 132.0,319.2 135.7,324.1 128.4,325.3 121.1,322.9" fill="#d03200"/>
<polygon points="173.1,314.1 180.4,314.1 180.4,323.8 174.3,322.6" fill="#cdf514"/>
<polygon points="58.2,323.8 64.3,322.0 67.3,325.0 68.5,328.6 76.4,329.8 77.6,332.3 75.2,334.7 77.6,338.3 82.5,342.6 78.8,344.4 58.2,344.4" fill="#1030f5"/>
<polygon points="70.3,322.0 76.4,322.6 78.8,326.2 76.4,327.4 70.3,326.2" fill="#b2e802"/>
<polygon points="81.2,332.3 83.7,328.0 88.5,326.2 93.4,327.4 94.6,332.3 93.4,337.1 88.5,338.3 83.7,339.5 80.0,337.1" fill="#b2e802"/>
<polygon points="93.4,334.7 105.5,332.3 105.5,338.3 93.4,339.5" fill="#b2e802"/>
<polygon points="119.7,323.8 128.2,322.6 131.8,326.2 130.6,329.8 127.0,335.9 122.1,337.1 113.6,332.3 110.0,329.8 110.0,327.4 116.1,326.2" fill="#b2e802"/>
<polygon points="117.3,326.2 123.3,326.2 123.3,331.1 117.3,331.1" fill="#507e02"/>
<polygon points="129.4,331.1 134.3,331.1 134.3,334.7 129.4,334.7" fill="#507e02"/>
<polygon points="158.5,332.3 168.2,327.4 173.1,325.0 174.3,327.4 167.0,332.3 161.0,334.7" fill="#507e02"/>
<polygon points="113.6,336.7 122.1,342.1 129.4,338.5 134.3,335.5 145.2,333.6 152.5,336.1 156.1,340.9 154.9,347.0 151.2,350.6 156.1,356.7 159.7,359.1 161.0,365.2 156.1,367.6 151.2,366.4 150.0,370.0 140.3,367.6 137.9,370.0 131.8,364.0 129.4,359.1 131.2,351.8 128.2,345.8 113.6,339.7" fill="#1030f5"/>
<polygon points="133.1,338.3 144.0,334.7 150.0,336.5 148.8,339.5 136.7,342.0" fill="#b9a5e1" fill-opacity="0.7"/>
<polygon points="135.5,348.2 146.4,345.8 150.0,349.4 142.8,353.1 136.7,351.8" fill="#34f83c"/>
<polygon points="134.3,356.7 141.5,354.3 145.2,357.9 142.8,361.5 135.5,361.5" fill="#34f83c"/>
<polygon points="175.5,356.7 180.4,355.5 180.4,366.4 173.1,366.4 170.7,365.2 174.3,361.5" fill="#1030f5"/>
<polygon points="168.2,347.0 171.9,347.0 171.9,348.8 168.2,348.8" fill="#1030f5"/>
<polygon points="169.4,331.2 174.3,331.2 174.3,333.0 169.4,333.0" fill="#1030f5"/>
<polyline points="52.1,316.2 70.3,315.6 75.2,313.8 94.6,313.2 98.2,314.4 110.0,318.0 128.2,316.8 134.3,317.4 141.5,319.9 150.0,320.5 158.5,319.2 164.6,316.8 169.4,313.2" fill="none" stroke="#f0a050" stroke-width="0.6" stroke-linejoin="round"/>
<g fill="none" stroke="#000" stroke-width="0.85" stroke-linejoin="round" transform="translate(0.0,267.4)">
<polyline points="51.7,25.6 63.9,24.3 63.9,19.2 66.9,18.0 66.9,11.0"/>
<polyline points="76.9,7.0 88.5,14.0 83.5,14.0 86.5,40.0 87.1,40.6 86.2,43.1 75.0,43.1 74.7,43.4 70.8,43.4 68.4,42.7 67.5,44.9 66.3,45.3"/>
<polyline points="88.5,14.0 106.5,25.9 106.6,27.2 112.7,29.9 113.0,32.4 115.8,31.9"/>
<polyline points="53.4,41.5 54.0,40.0 57.9,39.5 60.0,39.7 62.7,41.2 64.2,43.1 66.3,45.3"/>
<polyline points="66.3,45.3 66.9,47.9 68.7,50.8 68.7,52.5"/>
<polyline points="68.7,52.5 65.7,52.8 61.8,51.8 57.9,51.8 52.8,52.7"/>
<polyline points="52.5,48.9 56.4,48.9 57.9,48.2 60.9,49.0 61.5,49.5 60.0,50.1 57.6,49.2 56.4,49.8 52.5,50.4"/>
<polyline points="61.8,51.8 61.8,54.7 58.8,55.3 57.9,57.0"/>
<polyline points="68.7,52.5 70.8,54.1 75.0,52.5 76.5,55.0 77.7,56.8 79.0,59.2"/>
<polyline points="63.0,62.9 65.4,60.2 69.3,59.9 71.1,62.6 72.0,64.4"/>
<polyline points="72.0,64.4 74.4,64.7 75.0,67.5 77.4,67.2"/>
<polyline points="72.0,64.4 71.1,66.0 68.4,69.3"/>
<polyline points="79.0,59.2 78.4,61.4 79.9,64.7 77.4,67.2"/>
<polyline points="77.4,67.2 78.1,70.6 80.8,72.7 80.3,77.0"/>
<polyline points="79.0,59.2 84.4,58.0 86.5,58.6"/>
<polyline points="86.5,58.6 87.1,54.4 89.8,51.6 90.7,49.5 93.1,49.8 94.3,47.6 97.0,47.0 100.9,44.4 103.6,44.7"/>
<polyline points="86.5,58.6 89.2,60.8 94.6,60.8"/>
<polyline points="94.6,60.8 94.9,66.0 93.4,70.6 94.6,74.8"/>
<polyline points="94.6,60.8 94.6,56.8 102.6,56.5"/>
<polyline points="102.6,56.5 104.2,58.9 104.5,65.1 105.1,69.6 106.6,71.8"/>
<polyline points="102.6,56.5 105.7,56.8 107.2,62.0 107.8,71.3"/>
<polyline points="105.7,56.8 110.2,54.1 110.2,52.8"/>
<polyline points="103.6,44.7 103.6,47.6 106.0,49.5 106.0,51.3 109.3,51.6 110.2,52.8 113.9,54.7"/>
<polyline points="113.9,54.7 114.5,58.3 111.5,62.9 111.1,70.9"/>
<polyline points="113.9,54.7 115.4,49.2 121.1,48.6 124.1,50.7 128.6,50.4 133.1,49.8 140.6,50.4 143.9,48.6"/>
<polyline points="103.6,44.7 113.6,43.4 115.8,38.8 115.8,31.9"/>
<polyline points="115.8,31.9 120.5,30.8 125.6,26.5 139.1,18.6"/>
<polyline points="139.1,18.6 137.6,16.2 134.0,15.2 132.5,11.0"/>
<polyline points="139.1,18.6 145.8,21.4 148.2,20.1"/>
<polyline points="148.2,20.1 148.8,24.7 150.0,29.3 149.7,38.8 145.2,44.6 143.6,46.4 143.9,48.6"/>
<polyline points="148.2,20.1 175.2,30.8 175.2,42.4 171.9,43.1 169.2,50.7 170.7,56.8 171.9,57.1"/>
<polyline points="175.2,30.8 175.2,29.3 178.2,29.3 178.2,23.2 178.2,11.0"/>
<polyline points="128.6,76.1 131.0,70.9 134.6,69.0 137.0,70.6 138.8,67.8 141.5,63.8 144.5,56.8 147.0,55.3 145.8,52.5 145.5,50.4"/>
<polyline points="145.5,50.4 147.9,53.1 148.5,57.4 149.7,60.2 145.2,60.2 148.8,67.5"/>
<polyline points="148.8,67.5 152.7,66.9 159.0,65.7 160.5,62.9 164.4,62.6 168.3,58.0 171.9,57.1"/>
<polyline points="148.8,67.5 146.7,71.5 147.3,76.4 148.5,78.5 151.5,83.7"/>
<polyline points="171.9,57.1 174.0,62.9 175.8,65.1 179.2,68.1 182.8,72.1"/>
<polyline points="151.5,83.7 153.0,79.7 159.0,79.7 159.0,77.3 161.7,74.8 166.2,77.3 170.7,77.9 176.7,74.8 182.8,74.5"/>
<polyline points="159.0,79.7 156.6,87.4 156.3,91.9 151.8,96.5 151.8,101.1 148.8,104.2 146.7,105.4 143.6,105.1 142.1,104.2 139.7,107.2"/>
<polyline points="151.5,83.7 143.0,83.7 137.0,83.7 132.5,83.4"/>
<polyline points="137.0,83.7 137.0,87.4 132.5,87.4"/>
<polyline points="143.0,83.7 142.7,86.4 146.4,86.1 146.7,91.9 144.5,93.5 146.4,96.2 146.4,97.8 140.6,96.5 137.9,99.0 136.7,102.3"/>
<polygon points="141.8,47.6 143.9,46.4 146.7,47.6 148.2,50.1 147.0,51.9 144.5,52.2 143.0,50.7 141.5,49.5" fill="#000" stroke="none"/>
</g>
</g>
<polyline points="57.4,279.4 54.2,285.8 51.8,290.6 51.8,293.0 53.6,294.2 54.2,298.4 53.6,302.6 54.2,306.2 52.4,309.8 50.0,312.8 51.8,314.8 51.8,319.6 55.2,321.0 57.6,324.6 60.0,328.0 62.4,329.8 63.7,334.7 67.9,337.1 73.4,342.0 79.4,345.6 84.9,343.0 90.2,341.8 96.4,342.7 101.6,340.6 106.8,339.0 115.2,338.5 118.3,340.6 119.3,343.7 123.5,345.3 128.7,345.8 129.7,348.4 131.3,348.9 130.8,353.6 129.6,359.8 132.5,364.4 137.5,372.4 138.5,374.9" fill="none" stroke="#000" stroke-width="1.8" stroke-linejoin="round"/>
<rect x="127.3" y="346.4" width="1.9" height="2.4" fill="#000"/>
</g>
<rect x="27.8" y="280.1" width="150.4" height="92.3" fill="none" stroke="#000" stroke-width="1.5"/>
<text x="18.6" y="283.4" font-size="8.8" text-anchor="end" stroke="#000" stroke-width="0.42">25°N</text>
<text x="18.6" y="299.3" font-size="8.8" text-anchor="end" stroke="#000" stroke-width="0.42">20°N</text>
<text x="18.6" y="314.6" font-size="8.8" text-anchor="end" stroke="#000" stroke-width="0.42">15°N</text>
<text x="18.6" y="329.9" font-size="8.8" text-anchor="end" stroke="#000" stroke-width="0.42">10°N</text>
<text x="18.6" y="345.1" font-size="8.8" text-anchor="end" stroke="#000" stroke-width="0.42">5°N</text>
<text x="18.6" y="360.4" font-size="8.8" text-anchor="end" stroke="#000" stroke-width="0.42">0°</text>
<text x="18.6" y="375.7" font-size="8.8" text-anchor="end" stroke="#000" stroke-width="0.42">5°S</text>
<text x="42.8" y="388.3" font-size="8.8" text-anchor="middle" stroke="#000" stroke-width="0.42">20°W</text>
<text x="72.9" y="388.3" font-size="8.8" text-anchor="middle" stroke="#000" stroke-width="0.42">10°W</text>
<text x="103.0" y="388.3" font-size="8.8" text-anchor="middle" stroke="#000" stroke-width="0.42">0°</text>
<text x="133.1" y="388.3" font-size="8.8" text-anchor="middle" stroke="#000" stroke-width="0.42">10°E</text>
<text x="163.2" y="388.3" font-size="8.8" text-anchor="middle" stroke="#000" stroke-width="0.42">20°E</text>
<path d="M24.0 280.1H27.8M24.0 296.0H27.8M24.0 311.3H27.8M24.0 326.6H27.8M24.0 341.8H27.8M24.0 357.1H27.8M24.0 372.4H27.8M42.8 372.4V375.4M72.9 372.4V375.4M103.0 372.4V375.4M133.1 372.4V375.4M163.2 372.4V375.4" stroke="#000" stroke-width="1.3" fill="none"/>
<text x="27.4" y="273.8" font-size="8.6" stroke="#000" stroke-width="0.5">HIRES Historical Climate Type</text>
<text x="34.2" y="296.9" font-size="14" stroke="#000" stroke-width="0.3">g)</text>
<g clip-path="url(#fr7)">
<g clip-path="url(#land7)">
<rect x="223.1" y="279.1" width="152.4" height="94.3" fill="#7a0000"/>
<polygon points="252.4,279.2 262.7,279.2 260.3,284.1 254.2,288.9 249.3,290.7" fill="#e2000e"/>
<polygon points="311.5,279.2 313.3,285.3 314.5,291.3 319.3,292.0 321.8,290.1 324.2,293.8 324.8,302.3 327.8,305.3 333.9,304.1 341.2,304.7 343.6,301.1 347.2,297.4 357.0,296.8 364.2,298.0 367.9,302.3 367.9,308.3 376.4,308.9 376.4,279.2" fill="#e2000e"/>
<polygon points="335.1,292.6 339.4,292.6 338.8,297.4 335.7,296.8" fill="#7a0000"/>
<polygon points="340.6,291.3 346.0,292.0 345.4,296.8 341.2,296.2" fill="#7a0000"/>
<polygon points="248.1,321.3 251.8,321.3 263.9,322.0 267.5,325.6 276.0,326.2 278.5,324.4 284.5,324.4 288.2,326.2 290.6,325.0 291.8,332.3 290.6,335.9 296.7,337.1 300.3,334.7 306.0,333.7 312.1,330.4 318.1,331.7 321.8,332.3 327.8,334.1 335.1,332.3 342.4,332.9 350.9,334.1 357.0,331.7 363.0,329.8 369.1,328.6 376.4,329.8 376.4,378.0 248.1,378.0" fill="#507e02"/>
<polygon points="277.2,332.3 284.5,329.8 287.0,333.5 284.5,337.1 279.7,336.5" fill="#7a0000"/>
<polygon points="304.8,337.1 309.6,336.5 315.7,335.3 321.8,337.1 330.3,335.9 335.1,334.1 342.4,334.1 350.9,334.7 352.1,338.3 357.0,339.5 363.0,335.9 369.1,341.4 376.4,340.8 376.4,378.0 304.8,378.0" fill="#34f83c"/>
<polygon points="255.4,323.2 263.9,322.6 267.5,326.2 274.8,327.4 274.8,338.3 278.5,342.0 274.8,344.4 254.2,344.4" fill="#34f83c"/>
<polygon points="278.5,340.8 289.4,338.9 296.7,339.5 306.0,338.3 306.0,344.4 289.4,344.4 279.7,344.4" fill="#50f255"/>
<polygon points="296.7,336.9 306.0,336.4 306.0,338.9 296.7,339.5" fill="#86b808"/>
<polygon points="318.1,325.0 323.0,325.6 329.1,327.4 327.8,331.1 324.2,332.3 324.2,334.7 319.3,332.3" fill="#8cb414"/>
<polygon points="370.3,316.5 373.3,316.5 373.3,320.1 370.3,320.1" fill="#cdf514"/>
<polygon points="354.5,345.8 376.4,343.3 376.4,371.2 358.2,366.4 354.5,360.3" fill="#1ec828"/>
<polygon points="260.3,331.1 264.5,331.1 267.5,335.3 272.4,339.5 274.8,342.6 272.4,344.2 266.3,338.9 261.7,335.3" fill="#1030f5"/>
<polygon points="309.6,337.3 315.7,340.9 324.2,342.7 329.1,338.5 335.1,335.5 344.8,335.5 347.2,338.5 342.4,340.3 333.9,342.1 333.3,348.2 330.3,351.8 329.7,357.9 335.1,361.5 341.2,362.1 341.2,364.6 335.1,365.2 333.9,370.0 327.8,364.0 325.4,359.1 327.8,351.8 324.2,345.8 315.7,343.3 309.6,339.7" fill="#1030f5"/>
<polygon points="329.1,339.5 336.3,336.5 338.8,337.7 330.3,343.2" fill="#b9a5e1" fill-opacity="0.7"/>
<polyline points="265.1,318.0 271.2,316.8 290.6,316.8 306.0,319.9 315.7,319.2 324.2,318.6 330.3,321.7 337.5,323.5 343.6,324.7 350.9,324.1 354.5,320.5 360.6,319.9 365.4,313.8 370.3,314.4 376.4,313.8" fill="none" stroke="#f0a050" stroke-width="0.6" stroke-linejoin="round"/>
<polyline points="248.1,321.3 251.8,321.3 263.9,322.0 267.5,325.6 276.0,326.2 278.5,324.4 284.5,324.4 288.2,326.2 290.6,325.0 291.8,332.3 290.6,335.9 296.7,337.1 300.3,334.7 306.0,333.7 312.1,330.4 318.1,331.7 321.8,332.3 327.8,334.1 335.1,332.3 342.4,332.9 350.9,334.1 357.0,331.7 363.0,329.8 369.1,328.6 376.4,329.8" fill="none" stroke="#e6f0a0" stroke-width="0.5" stroke-linejoin="round"/>
<g fill="none" stroke="#000" stroke-width="0.85" stroke-linejoin="round" transform="translate(196.3,267.4)">
<polyline points="51.7,25.6 63.9,24.3 63.9,19.2 66.9,18.0 66.9,11.0"/>
<polyline points="76.9,7.0 88.5,14.0 83.5,14.0 86.5,40.0 87.1,40.6 86.2,43.1 75.0,43.1 74.7,43.4 70.8,43.4 68.4,42.7 67.5,44.9 66.3,45.3"/>
<polyline points="88.5,14.0 106.5,25.9 106.6,27.2 112.7,29.9 113.0,32.4 115.8,31.9"/>
<polyline points="53.4,41.5 54.0,40.0 57.9,39.5 60.0,39.7 62.7,41.2 64.2,43.1 66.3,45.3"/>
<polyline points="66.3,45.3 66.9,47.9 68.7,50.8 68.7,52.5"/>
<polyline points="68.7,52.5 65.7,52.8 61.8,51.8 57.9,51.8 52.8,52.7"/>
<polyline points="52.5,48.9 56.4,48.9 57.9,48.2 60.9,49.0 61.5,49.5 60.0,50.1 57.6,49.2 56.4,49.8 52.5,50.4"/>
<polyline points="61.8,51.8 61.8,54.7 58.8,55.3 57.9,57.0"/>
<polyline points="68.7,52.5 70.8,54.1 75.0,52.5 76.5,55.0 77.7,56.8 79.0,59.2"/>
<polyline points="63.0,62.9 65.4,60.2 69.3,59.9 71.1,62.6 72.0,64.4"/>
<polyline points="72.0,64.4 74.4,64.7 75.0,67.5 77.4,67.2"/>
<polyline points="72.0,64.4 71.1,66.0 68.4,69.3"/>
<polyline points="79.0,59.2 78.4,61.4 79.9,64.7 77.4,67.2"/>
<polyline points="77.4,67.2 78.1,70.6 80.8,72.7 80.3,77.0"/>
<polyline points="79.0,59.2 84.4,58.0 86.5,58.6"/>
<polyline points="86.5,58.6 87.1,54.4 89.8,51.6 90.7,49.5 93.1,49.8 94.3,47.6 97.0,47.0 100.9,44.4 103.6,44.7"/>
<polyline points="86.5,58.6 89.2,60.8 94.6,60.8"/>
<polyline points="94.6,60.8 94.9,66.0 93.4,70.6 94.6,74.8"/>
<polyline points="94.6,60.8 94.6,56.8 102.6,56.5"/>
<polyline points="102.6,56.5 104.2,58.9 104.5,65.1 105.1,69.6 106.6,71.8"/>
<polyline points="102.6,56.5 105.7,56.8 107.2,62.0 107.8,71.3"/>
<polyline points="105.7,56.8 110.2,54.1 110.2,52.8"/>
<polyline points="103.6,44.7 103.6,47.6 106.0,49.5 106.0,51.3 109.3,51.6 110.2,52.8 113.9,54.7"/>
<polyline points="113.9,54.7 114.5,58.3 111.5,62.9 111.1,70.9"/>
<polyline points="113.9,54.7 115.4,49.2 121.1,48.6 124.1,50.7 128.6,50.4 133.1,49.8 140.6,50.4 143.9,48.6"/>
<polyline points="103.6,44.7 113.6,43.4 115.8,38.8 115.8,31.9"/>
<polyline points="115.8,31.9 120.5,30.8 125.6,26.5 139.1,18.6"/>
<polyline points="139.1,18.6 137.6,16.2 134.0,15.2 132.5,11.0"/>
<polyline points="139.1,18.6 145.8,21.4 148.2,20.1"/>
<polyline points="148.2,20.1 148.8,24.7 150.0,29.3 149.7,38.8 145.2,44.6 143.6,46.4 143.9,48.6"/>
<polyline points="148.2,20.1 175.2,30.8 175.2,42.4 171.9,43.1 169.2,50.7 170.7,56.8 171.9,57.1"/>
<polyline points="175.2,30.8 175.2,29.3 178.2,29.3 178.2,23.2 178.2,11.0"/>
<polyline points="128.6,76.1 131.0,70.9 134.6,69.0 137.0,70.6 138.8,67.8 141.5,63.8 144.5,56.8 147.0,55.3 145.8,52.5 145.5,50.4"/>
<polyline points="145.5,50.4 147.9,53.1 148.5,57.4 149.7,60.2 145.2,60.2 148.8,67.5"/>
<polyline points="148.8,67.5 152.7,66.9 159.0,65.7 160.5,62.9 164.4,62.6 168.3,58.0 171.9,57.1"/>
<polyline points="148.8,67.5 146.7,71.5 147.3,76.4 148.5,78.5 151.5,83.7"/>
<polyline points="171.9,57.1 174.0,62.9 175.8,65.1 179.2,68.1 182.8,72.1"/>
<polyline points="151.5,83.7 153.0,79.7 159.0,79.7 159.0,77.3 161.7,74.8 166.2,77.3 170.7,77.9 176.7,74.8 182.8,74.5"/>
<polyline points="159.0,79.7 156.6,87.4 156.3,91.9 151.8,96.5 151.8,101.1 148.8,104.2 146.7,105.4 143.6,105.1 142.1,104.2 139.7,107.2"/>
<polyline points="151.5,83.7 143.0,83.7 137.0,83.7 132.5,83.4"/>
<polyline points="137.0,83.7 137.0,87.4 132.5,87.4"/>
<polyline points="143.0,83.7 142.7,86.4 146.4,86.1 146.7,91.9 144.5,93.5 146.4,96.2 146.4,97.8 140.6,96.5 137.9,99.0 136.7,102.3"/>
<polygon points="141.8,47.6 143.9,46.4 146.7,47.6 148.2,50.1 147.0,51.9 144.5,52.2 143.0,50.7 141.5,49.5" fill="#000" stroke="none"/>
</g>
</g>
<polyline points="253.7,279.4 250.5,285.8 248.1,290.6 248.1,293.0 249.9,294.2 250.5,298.4 249.9,302.6 250.5,306.2 248.7,309.8 246.3,312.8 248.1,314.8 248.1,319.6 251.5,321.0 253.9,324.6 256.3,328.0 258.7,329.8 260.0,334.7 264.2,337.1 269.7,342.0 275.7,345.6 281.2,343.0 286.5,341.8 292.7,342.7 297.9,340.6 303.1,339.0 311.5,338.5 314.6,340.6 315.6,343.7 319.8,345.3 325.0,345.8 326.0,348.4 327.6,348.9 327.1,353.6 325.9,359.8 328.8,364.4 333.8,372.4 334.8,374.9" fill="none" stroke="#000" stroke-width="1.8" stroke-linejoin="round"/>
<rect x="323.6" y="346.4" width="1.9" height="2.4" fill="#000"/>
</g>
<rect x="224.1" y="280.1" width="150.4" height="92.3" fill="none" stroke="#000" stroke-width="1.5"/>
<text x="214.9" y="283.4" font-size="8.8" text-anchor="end" stroke="#000" stroke-width="0.42">25°N</text>
<text x="214.9" y="299.3" font-size="8.8" text-anchor="end" stroke="#000" stroke-width="0.42">20°N</text>
<text x="214.9" y="314.6" font-size="8.8" text-anchor="end" stroke="#000" stroke-width="0.42">15°N</text>
<text x="214.9" y="329.9" font-size="8.8" text-anchor="end" stroke="#000" stroke-width="0.42">10°N</text>
<text x="214.9" y="345.1" font-size="8.8" text-anchor="end" stroke="#000" stroke-width="0.42">5°N</text>
<text x="214.9" y="360.4" font-size="8.8" text-anchor="end" stroke="#000" stroke-width="0.42">0°</text>
<text x="214.9" y="375.7" font-size="8.8" text-anchor="end" stroke="#000" stroke-width="0.42">5°S</text>
<text x="239.1" y="388.3" font-size="8.8" text-anchor="middle" stroke="#000" stroke-width="0.42">20°W</text>
<text x="269.2" y="388.3" font-size="8.8" text-anchor="middle" stroke="#000" stroke-width="0.42">10°W</text>
<text x="299.3" y="388.3" font-size="8.8" text-anchor="middle" stroke="#000" stroke-width="0.42">0°</text>
<text x="329.4" y="388.3" font-size="8.8" text-anchor="middle" stroke="#000" stroke-width="0.42">10°E</text>
<text x="359.5" y="388.3" font-size="8.8" text-anchor="middle" stroke="#000" stroke-width="0.42">20°E</text>
<path d="M220.3 280.1H224.1M220.3 296.0H224.1M220.3 311.3H224.1M220.3 326.6H224.1M220.3 341.8H224.1M220.3 357.1H224.1M220.3 372.4H224.1M239.1 372.4V375.4M269.2 372.4V375.4M299.3 372.4V375.4M329.4 372.4V375.4M359.5 372.4V375.4" stroke="#000" stroke-width="1.3" fill="none"/>
<text x="223.7" y="273.8" font-size="8.6" stroke="#000" stroke-width="0.5">HIRES RCP4.5 Climate Type</text>
<text x="230.5" y="296.9" font-size="14" stroke="#000" stroke-width="0.3">h)</text>
<g clip-path="url(#fr8)">
<g clip-path="url(#land8)">
<rect x="419.2" y="279.1" width="152.4" height="94.3" fill="#7a0000"/>
<polygon points="511.1,281.6 526.3,281.6 529.9,284.1 523.8,285.3 521.4,289.5 516.6,286.5 511.7,287.7" fill="#e2000e"/>
<polygon points="529.9,281.6 538.4,281.6 536.0,284.1 531.1,284.1" fill="#e2000e"/>
<polygon points="542.0,286.5 545.7,285.3 549.3,288.9 554.2,290.1 553.0,296.2 548.1,294.4 544.5,292.0" fill="#e2000e"/>
<polygon points="553.0,281.6 561.4,281.6 559.0,286.5 554.2,288.9" fill="#e2000e"/>
<polygon points="444.1,323.2 451.4,323.2 459.9,323.2 462.3,327.4 470.8,328.6 473.2,329.8 473.2,337.1 480.5,338.3 485.4,337.1 495.1,338.3 497.5,335.9 497.5,331.1 502.0,331.7 508.1,333.5 514.1,335.3 517.8,336.5 523.8,335.9 529.9,333.5 538.4,333.5 544.5,335.3 550.5,335.9 555.4,333.5 559.0,331.7 565.1,329.8 572.4,330.4 572.4,378.0 444.1,378.0" fill="#507e02"/>
<polygon points="452.0,323.8 459.3,323.2 462.3,328.0 470.8,329.2 472.6,337.1 480.5,338.9 475.7,343.8 470.8,344.4 450.2,344.4" fill="#14c81e"/>
<polygon points="480.5,338.9 485.4,337.7 495.1,338.9 502.0,337.7 502.0,344.4 485.4,344.4 478.1,344.4" fill="#50f255"/>
<polygon points="456.3,331.7 458.7,332.3 463.5,336.5 470.8,342.0 470.8,344.4 467.2,343.2 459.9,338.1" fill="#1030f5"/>
<polygon points="516.6,327.7 521.4,325.6 525.1,328.6 522.4,332.3 517.4,331.5" fill="#c8e632"/>
<polygon points="517.8,328.4 521.4,326.8 523.8,328.7 521.8,331.1 518.3,330.6" fill="#46dc28"/>
<polygon points="500.8,335.9 511.7,337.7 517.8,341.4 522.6,340.8 522.6,344.4 511.7,344.4 500.8,340.8" fill="#02b904"/>
<polygon points="529.9,334.1 538.4,334.1 544.5,335.9 545.7,340.8 550.5,343.2 550.5,348.0 555.4,352.9 560.2,350.5 565.1,344.4 572.4,343.2 572.4,380.8 528.7,380.8 529.9,348.0 528.1,343.2" fill="#02b904"/>
<polygon points="532.3,367.6 542.0,366.4 550.5,367.6 555.4,370.0 555.4,378.5 532.3,378.5" fill="#507e02"/>
<polygon points="528.7,340.9 537.2,340.9 539.6,345.8 532.3,347.0" fill="#507e02"/>
<polygon points="505.6,337.3 512.9,342.1 520.2,342.7 525.1,338.5 531.1,335.5 540.8,335.5 543.2,338.5 538.4,340.3 529.9,342.1 531.1,348.2 526.3,351.8 526.3,356.7 531.1,361.5 532.3,366.4 529.9,370.0 523.8,364.0 521.4,359.1 523.8,351.8 520.2,345.8 511.7,343.3 505.6,339.7" fill="#1428dc"/>
<polyline points="447.8,320.5 468.4,320.5 470.8,321.7 502.0,321.7 506.9,324.1 509.3,326.5 511.7,322.9 516.6,320.5 521.4,322.9 526.3,324.1 529.9,326.5 534.8,327.1 543.2,326.5 550.5,322.3 555.4,324.1 560.2,322.9 562.7,318.0 568.7,315.6 572.4,315.6" fill="none" stroke="#f0b070" stroke-width="0.6" stroke-linejoin="round"/>
<polyline points="444.1,323.2 451.4,323.2 459.9,323.2 462.3,327.4 470.8,328.6 473.2,329.8 473.2,337.1 480.5,338.3 485.4,337.1 495.1,338.3 497.5,335.9 497.5,331.1 502.0,331.7 508.1,333.5 514.1,335.3 517.8,336.5 523.8,335.9 529.9,333.5 538.4,333.5 544.5,335.3 550.5,335.9 555.4,333.5 559.0,331.7 565.1,329.8 572.4,330.4" fill="none" stroke="#e6f0a0" stroke-width="0.5" stroke-linejoin="round"/>
<g fill="none" stroke="#000" stroke-width="0.85" stroke-linejoin="round" transform="translate(392.4,267.4)">
<polyline points="51.7,25.6 63.9,24.3 63.9,19.2 66.9,18.0 66.9,11.0"/>
<polyline points="76.9,7.0 88.5,14.0 83.5,14.0 86.5,40.0 87.1,40.6 86.2,43.1 75.0,43.1 74.7,43.4 70.8,43.4 68.4,42.7 67.5,44.9 66.3,45.3"/>
<polyline points="88.5,14.0 106.5,25.9 106.6,27.2 112.7,29.9 113.0,32.4 115.8,31.9"/>
<polyline points="53.4,41.5 54.0,40.0 57.9,39.5 60.0,39.7 62.7,41.2 64.2,43.1 66.3,45.3"/>
<polyline points="66.3,45.3 66.9,47.9 68.7,50.8 68.7,52.5"/>
<polyline points="68.7,52.5 65.7,52.8 61.8,51.8 57.9,51.8 52.8,52.7"/>
<polyline points="52.5,48.9 56.4,48.9 57.9,48.2 60.9,49.0 61.5,49.5 60.0,50.1 57.6,49.2 56.4,49.8 52.5,50.4"/>
<polyline points="61.8,51.8 61.8,54.7 58.8,55.3 57.9,57.0"/>
<polyline points="68.7,52.5 70.8,54.1 75.0,52.5 76.5,55.0 77.7,56.8 79.0,59.2"/>
<polyline points="63.0,62.9 65.4,60.2 69.3,59.9 71.1,62.6 72.0,64.4"/>
<polyline points="72.0,64.4 74.4,64.7 75.0,67.5 77.4,67.2"/>
<polyline points="72.0,64.4 71.1,66.0 68.4,69.3"/>
<polyline points="79.0,59.2 78.4,61.4 79.9,64.7 77.4,67.2"/>
<polyline points="77.4,67.2 78.1,70.6 80.8,72.7 80.3,77.0"/>
<polyline points="79.0,59.2 84.4,58.0 86.5,58.6"/>
<polyline points="86.5,58.6 87.1,54.4 89.8,51.6 90.7,49.5 93.1,49.8 94.3,47.6 97.0,47.0 100.9,44.4 103.6,44.7"/>
<polyline points="86.5,58.6 89.2,60.8 94.6,60.8"/>
<polyline points="94.6,60.8 94.9,66.0 93.4,70.6 94.6,74.8"/>
<polyline points="94.6,60.8 94.6,56.8 102.6,56.5"/>
<polyline points="102.6,56.5 104.2,58.9 104.5,65.1 105.1,69.6 106.6,71.8"/>
<polyline points="102.6,56.5 105.7,56.8 107.2,62.0 107.8,71.3"/>
<polyline points="105.7,56.8 110.2,54.1 110.2,52.8"/>
<polyline points="103.6,44.7 103.6,47.6 106.0,49.5 106.0,51.3 109.3,51.6 110.2,52.8 113.9,54.7"/>
<polyline points="113.9,54.7 114.5,58.3 111.5,62.9 111.1,70.9"/>
<polyline points="113.9,54.7 115.4,49.2 121.1,48.6 124.1,50.7 128.6,50.4 133.1,49.8 140.6,50.4 143.9,48.6"/>
<polyline points="103.6,44.7 113.6,43.4 115.8,38.8 115.8,31.9"/>
<polyline points="115.8,31.9 120.5,30.8 125.6,26.5 139.1,18.6"/>
<polyline points="139.1,18.6 137.6,16.2 134.0,15.2 132.5,11.0"/>
<polyline points="139.1,18.6 145.8,21.4 148.2,20.1"/>
<polyline points="148.2,20.1 148.8,24.7 150.0,29.3 149.7,38.8 145.2,44.6 143.6,46.4 143.9,48.6"/>
<polyline points="148.2,20.1 175.2,30.8 175.2,42.4 171.9,43.1 169.2,50.7 170.7,56.8 171.9,57.1"/>
<polyline points="175.2,30.8 175.2,29.3 178.2,29.3 178.2,23.2 178.2,11.0"/>
<polyline points="128.6,76.1 131.0,70.9 134.6,69.0 137.0,70.6 138.8,67.8 141.5,63.8 144.5,56.8 147.0,55.3 145.8,52.5 145.5,50.4"/>
<polyline points="145.5,50.4 147.9,53.1 148.5,57.4 149.7,60.2 145.2,60.2 148.8,67.5"/>
<polyline points="148.8,67.5 152.7,66.9 159.0,65.7 160.5,62.9 164.4,62.6 168.3,58.0 171.9,57.1"/>
<polyline points="148.8,67.5 146.7,71.5 147.3,76.4 148.5,78.5 151.5,83.7"/>
<polyline points="171.9,57.1 174.0,62.9 175.8,65.1 179.2,68.1 182.8,72.1"/>
<polyline points="151.5,83.7 153.0,79.7 159.0,79.7 159.0,77.3 161.7,74.8 166.2,77.3 170.7,77.9 176.7,74.8 182.8,74.5"/>
<polyline points="159.0,79.7 156.6,87.4 156.3,91.9 151.8,96.5 151.8,101.1 148.8,104.2 146.7,105.4 143.6,105.1 142.1,104.2 139.7,107.2"/>
<polyline points="151.5,83.7 143.0,83.7 137.0,83.7 132.5,83.4"/>
<polyline points="137.0,83.7 137.0,87.4 132.5,87.4"/>
<polyline points="143.0,83.7 142.7,86.4 146.4,86.1 146.7,91.9 144.5,93.5 146.4,96.2 146.4,97.8 140.6,96.5 137.9,99.0 136.7,102.3"/>
<polygon points="141.8,47.6 143.9,46.4 146.7,47.6 148.2,50.1 147.0,51.9 144.5,52.2 143.0,50.7 141.5,49.5" fill="#000" stroke="none"/>
</g>
</g>
<polyline points="449.8,279.4 446.6,285.8 444.2,290.6 444.2,293.0 446.0,294.2 446.6,298.4 446.0,302.6 446.6,306.2 444.8,309.8 442.4,312.8 444.2,314.8 444.2,319.6 447.6,321.0 450.0,324.6 452.4,328.0 454.8,329.8 456.1,334.7 460.3,337.1 465.8,342.0 471.8,345.6 477.3,343.0 482.6,341.8 488.8,342.7 494.0,340.6 499.2,339.0 507.6,338.5 510.7,340.6 511.7,343.7 515.9,345.3 521.1,345.8 522.1,348.4 523.7,348.9 523.2,353.6 522.0,359.8 524.9,364.4 529.9,372.4 530.9,374.9" fill="none" stroke="#000" stroke-width="1.8" stroke-linejoin="round"/>
<rect x="519.7" y="346.4" width="1.9" height="2.4" fill="#000"/>
</g>
<rect x="420.2" y="280.1" width="150.4" height="92.3" fill="none" stroke="#000" stroke-width="1.5"/>
<text x="411.0" y="283.4" font-size="8.8" text-anchor="end" stroke="#000" stroke-width="0.42">25°N</text>
<text x="411.0" y="299.3" font-size="8.8" text-anchor="end" stroke="#000" stroke-width="0.42">20°N</text>
<text x="411.0" y="314.6" font-size="8.8" text-anchor="end" stroke="#000" stroke-width="0.42">15°N</text>
<text x="411.0" y="329.9" font-size="8.8" text-anchor="end" stroke="#000" stroke-width="0.42">10°N</text>
<text x="411.0" y="345.1" font-size="8.8" text-anchor="end" stroke="#000" stroke-width="0.42">5°N</text>
<text x="411.0" y="360.4" font-size="8.8" text-anchor="end" stroke="#000" stroke-width="0.42">0°</text>
<text x="411.0" y="375.7" font-size="8.8" text-anchor="end" stroke="#000" stroke-width="0.42">5°S</text>
<text x="435.2" y="388.3" font-size="8.8" text-anchor="middle" stroke="#000" stroke-width="0.42">20°W</text>
<text x="465.3" y="388.3" font-size="8.8" text-anchor="middle" stroke="#000" stroke-width="0.42">10°W</text>
<text x="495.4" y="388.3" font-size="8.8" text-anchor="middle" stroke="#000" stroke-width="0.42">0°</text>
<text x="525.5" y="388.3" font-size="8.8" text-anchor="middle" stroke="#000" stroke-width="0.42">10°E</text>
<text x="555.6" y="388.3" font-size="8.8" text-anchor="middle" stroke="#000" stroke-width="0.42">20°E</text>
<path d="M416.4 280.1H420.2M416.4 296.0H420.2M416.4 311.3H420.2M416.4 326.6H420.2M416.4 341.8H420.2M416.4 357.1H420.2M416.4 372.4H420.2M435.2 372.4V375.4M465.3 372.4V375.4M495.4 372.4V375.4M525.5 372.4V375.4M555.6 372.4V375.4" stroke="#000" stroke-width="1.3" fill="none"/>
<text x="419.8" y="273.8" font-size="8.6" stroke="#000" stroke-width="0.5">HIRES RCP8.5 Climate Type</text>
<text x="426.6" y="296.9" font-size="14" stroke="#000" stroke-width="0.3">i)</text>
<rect x="5.20" y="409.3" width="15.88" height="15.6" fill="#0a0ac8" stroke="#222" stroke-width="0.4"/>
<rect x="21.08" y="409.3" width="15.88" height="15.6" fill="#3c28f0" stroke="#222" stroke-width="0.4"/>
<rect x="36.96" y="409.3" width="15.88" height="15.6" fill="#6464cd" stroke="#222" stroke-width="0.4"/>
<rect x="52.84" y="409.3" width="15.88" height="15.6" fill="#b9a5e1" stroke="#222" stroke-width="0.4"/>
<rect x="68.72" y="409.3" width="15.88" height="15.6" fill="#e1cdf5" stroke="#222" stroke-width="0.4"/>
<rect x="84.60" y="409.3" width="15.88" height="15.6" fill="#f0dcf0" stroke="#222" stroke-width="0.4"/>
<rect x="100.48" y="409.3" width="15.88" height="15.6" fill="#0505b9" stroke="#222" stroke-width="0.4"/>
<rect x="116.36" y="409.3" width="15.88" height="15.6" fill="#143ceb" stroke="#222" stroke-width="0.4"/>
<rect x="132.24" y="409.3" width="15.88" height="15.6" fill="#3c6ee1" stroke="#222" stroke-width="0.4"/>
<rect x="148.12" y="409.3" width="15.88" height="15.6" fill="#64aae6" stroke="#222" stroke-width="0.4"/>
<rect x="164.00" y="409.3" width="15.88" height="15.6" fill="#a5e6e6" stroke="#222" stroke-width="0.4"/>
<rect x="179.88" y="409.3" width="15.88" height="15.6" fill="#c3e1f0" stroke="#222" stroke-width="0.4"/>
<rect x="195.76" y="409.3" width="15.88" height="15.6" fill="#00aa0a" stroke="#222" stroke-width="0.4"/>
<rect x="211.64" y="409.3" width="15.88" height="15.6" fill="#32f53c" stroke="#222" stroke-width="0.4"/>
<rect x="227.52" y="409.3" width="15.88" height="15.6" fill="#46f055" stroke="#222" stroke-width="0.4"/>
<rect x="243.40" y="409.3" width="15.88" height="15.6" fill="#6ef078" stroke="#222" stroke-width="0.4"/>
<rect x="259.28" y="409.3" width="15.88" height="15.6" fill="#b9f0dc" stroke="#222" stroke-width="0.4"/>
<rect x="275.16" y="409.3" width="15.88" height="15.6" fill="#f0faeb" stroke="#222" stroke-width="0.4"/>
<rect x="291.04" y="409.3" width="15.88" height="15.6" fill="#50780a" stroke="#222" stroke-width="0.4"/>
<rect x="306.92" y="409.3" width="15.88" height="15.6" fill="#96d700" stroke="#222" stroke-width="0.4"/>
<rect x="322.80" y="409.3" width="15.88" height="15.6" fill="#cdf514" stroke="#222" stroke-width="0.4"/>
<rect x="338.68" y="409.3" width="15.88" height="15.6" fill="#f0f078" stroke="#222" stroke-width="0.4"/>
<rect x="354.56" y="409.3" width="15.88" height="15.6" fill="#eefac8" stroke="#222" stroke-width="0.4"/>
<rect x="370.44" y="409.3" width="15.88" height="15.6" fill="#ffffff" stroke="#222" stroke-width="0.4"/>
<rect x="386.32" y="409.3" width="15.88" height="15.6" fill="#7d0505" stroke="#222" stroke-width="0.4"/>
<rect x="402.20" y="409.3" width="15.88" height="15.6" fill="#d23705" stroke="#222" stroke-width="0.4"/>
<rect x="418.08" y="409.3" width="15.88" height="15.6" fill="#eb5f19" stroke="#222" stroke-width="0.4"/>
<rect x="433.96" y="409.3" width="15.88" height="15.6" fill="#f07828" stroke="#222" stroke-width="0.4"/>
<rect x="449.84" y="409.3" width="15.88" height="15.6" fill="#e8c38c" stroke="#222" stroke-width="0.4"/>
<rect x="465.72" y="409.3" width="15.88" height="15.6" fill="#faf0e1" stroke="#222" stroke-width="0.4"/>
<rect x="481.60" y="409.3" width="15.88" height="15.6" fill="#7d0005" stroke="#222" stroke-width="0.4"/>
<rect x="497.48" y="409.3" width="15.88" height="15.6" fill="#e10019" stroke="#222" stroke-width="0.4"/>
<rect x="513.36" y="409.3" width="15.88" height="15.6" fill="#d21e50" stroke="#222" stroke-width="0.4"/>
<rect x="529.24" y="409.3" width="15.88" height="15.6" fill="#d73ca0" stroke="#222" stroke-width="0.4"/>
<rect x="545.12" y="409.3" width="15.88" height="15.6" fill="#f08cc8" stroke="#222" stroke-width="0.4"/>
<rect x="561.00" y="409.3" width="15.88" height="15.6" fill="#f0d7eb" stroke="#222" stroke-width="0.4"/>
<text x="13.1" y="420.0" font-size="8.5" font-weight="bold" text-anchor="middle">1</text>
<text x="29.0" y="420.0" font-size="8.5" font-weight="bold" text-anchor="middle">2</text>
<text x="44.9" y="420.0" font-size="8.5" font-weight="bold" text-anchor="middle">3</text>
<text x="60.8" y="420.0" font-size="8.5" font-weight="bold" text-anchor="middle">4</text>
<text x="76.7" y="420.0" font-size="8.5" font-weight="bold" text-anchor="middle">5</text>
<text x="92.5" y="420.0" font-size="8.5" font-weight="bold" text-anchor="middle">6</text>
<text x="108.4" y="420.0" font-size="8.5" font-weight="bold" text-anchor="middle">1</text>
<text x="124.3" y="420.0" font-size="8.5" font-weight="bold" text-anchor="middle">2</text>
<text x="140.2" y="420.0" font-size="8.5" font-weight="bold" text-anchor="middle">3</text>
<text x="156.1" y="420.0" font-size="8.5" font-weight="bold" text-anchor="middle">4</text>
<text x="171.9" y="420.0" font-size="8.5" font-weight="bold" text-anchor="middle">5</text>
<text x="187.8" y="420.0" font-size="8.5" font-weight="bold" text-anchor="middle">6</text>
<text x="203.7" y="420.0" font-size="8.5" font-weight="bold" text-anchor="middle">1</text>
<text x="219.6" y="420.0" font-size="8.5" font-weight="bold" text-anchor="middle">2</text>
<text x="235.5" y="420.0" font-size="8.5" font-weight="bold" text-anchor="middle">3</text>
<text x="251.3" y="420.0" font-size="8.5" font-weight="bold" text-anchor="middle">4</text>
<text x="267.2" y="420.0" font-size="8.5" font-weight="bold" text-anchor="middle">5</text>
<text x="283.1" y="420.0" font-size="8.5" font-weight="bold" text-anchor="middle">6</text>
<text x="299.0" y="420.0" font-size="8.5" font-weight="bold" text-anchor="middle">1</text>
<text x="314.9" y="420.0" font-size="8.5" font-weight="bold" text-anchor="middle">2</text>
<text x="330.7" y="420.0" font-size="8.5" font-weight="bold" text-anchor="middle">3</text>
<text x="346.6" y="420.0" font-size="8.5" font-weight="bold" text-anchor="middle">4</text>
<text x="362.5" y="420.0" font-size="8.5" font-weight="bold" text-anchor="middle">5</text>
<text x="378.4" y="420.0" font-size="8.5" font-weight="bold" text-anchor="middle">6</text>
<text x="394.3" y="420.0" font-size="8.5" font-weight="bold" text-anchor="middle">1</text>
<text x="410.1" y="420.0" font-size="8.5" font-weight="bold" text-anchor="middle">2</text>
<text x="426.0" y="420.0" font-size="8.5" font-weight="bold" text-anchor="middle">3</text>
<text x="441.9" y="420.0" font-size="8.5" font-weight="bold" text-anchor="middle">4</text>
<text x="457.8" y="420.0" font-size="8.5" font-weight="bold" text-anchor="middle">5</text>
<text x="473.7" y="420.0" font-size="8.5" font-weight="bold" text-anchor="middle">6</text>
<text x="489.5" y="420.0" font-size="8.5" font-weight="bold" text-anchor="middle">1</text>
<text x="505.4" y="420.0" font-size="8.5" font-weight="bold" text-anchor="middle">2</text>
<text x="521.3" y="420.0" font-size="8.5" font-weight="bold" text-anchor="middle">3</text>
<text x="537.2" y="420.0" font-size="8.5" font-weight="bold" text-anchor="middle">4</text>
<text x="553.1" y="420.0" font-size="8.5" font-weight="bold" text-anchor="middle">5</text>
<text x="568.9" y="420.0" font-size="8.5" font-weight="bold" text-anchor="middle">6</text>
<rect x="5.2" y="409.3" width="571.7" height="15.6" fill="none" stroke="#000" stroke-width="0.9"/>
<text x="55.8" y="404.6" font-size="10.3" text-anchor="middle" stroke="#000" stroke-width="0.2">Saturated</text>
<text x="150.2" y="404.6" font-size="10.3" text-anchor="middle" stroke="#000" stroke-width="0.2">Wet</text>
<text x="243.8" y="404.6" font-size="10.3" text-anchor="middle" stroke="#000" stroke-width="0.2">Moist</text>
<text x="338.2" y="404.6" font-size="10.3" text-anchor="middle" stroke="#000" stroke-width="0.2">Dry</text>
<text x="432.2" y="404.6" font-size="10.3" text-anchor="middle" stroke="#000" stroke-width="0.2">Semiarid</text>
<text x="520.8" y="404.6" font-size="10.3" text-anchor="middle" stroke="#000" stroke-width="0.2">Arid</text>
<text x="13.1" y="432.1" font-size="8" text-anchor="middle" stroke="#000" stroke-width="0.3">T</text>
<text x="29.0" y="432.1" font-size="8" text-anchor="middle" stroke="#000" stroke-width="0.3">H</text>
<text x="44.9" y="432.1" font-size="8" text-anchor="middle" stroke="#000" stroke-width="0.3">W</text>
<text x="60.8" y="432.1" font-size="8" text-anchor="middle" stroke="#000" stroke-width="0.3">Cl</text>
<text x="76.7" y="432.1" font-size="8" text-anchor="middle" stroke="#000" stroke-width="0.3">Cd</text>
<text x="92.5" y="432.1" font-size="8" text-anchor="middle" stroke="#000" stroke-width="0.3">F</text>
</svg>
</body></html>
